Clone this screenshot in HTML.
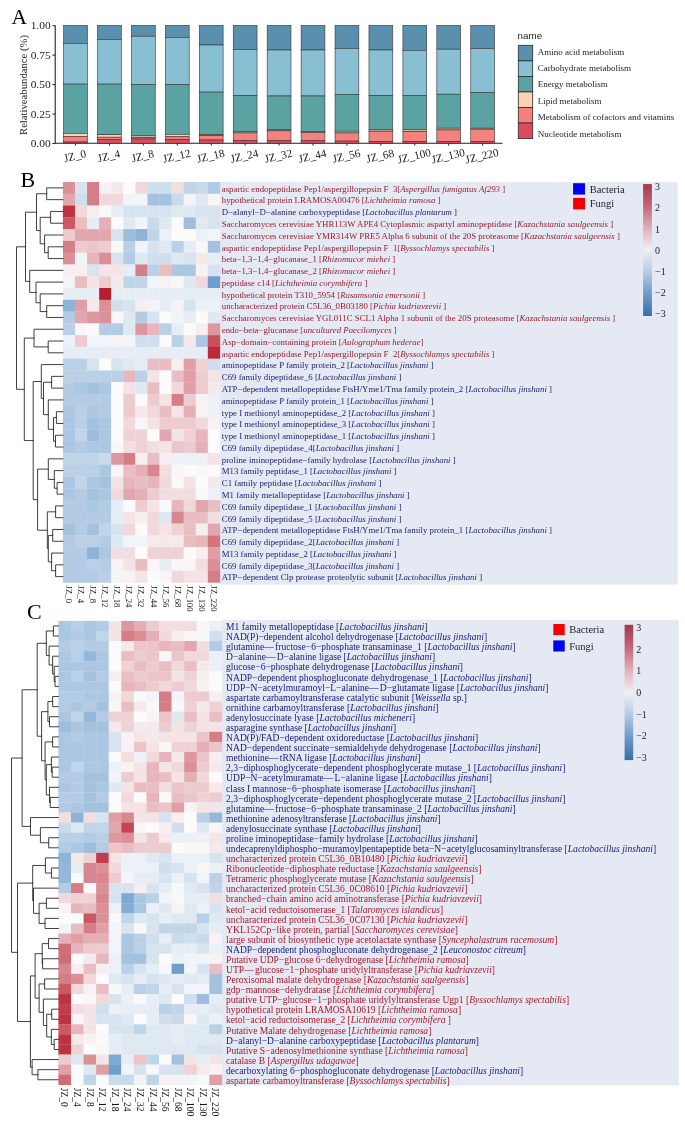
<!DOCTYPE html>
<html><head><meta charset="utf-8"><title>Figure</title>
<style>html,body{margin:0;padding:0;background:#fff;width:685px;height:1141px;overflow:hidden}svg{display:block;filter:blur(0.35px)}</style>
</head><body>
<svg width="685" height="1141" viewBox="0 0 685 1141">
<rect width="685" height="1141" fill="#fff"/>
<text x="11.5" y="23.6" font-family='"Liberation Serif", serif' font-size="21.5" fill="#000">A</text>
<text transform="translate(27.4,85) rotate(-90)" text-anchor="middle" font-family='"Liberation Serif", serif' font-size="10.7" fill="#222">Relativeabundance (%)</text>
<path d="M55.2,25.2 V143.2 H502.5" stroke="#222" stroke-width="1.1" fill="none"/>
<path d="M52.4,25.7 H55.2" stroke="#222" stroke-width="1"/>
<text x="50.6" y="29.2" text-anchor="end" font-family='"Liberation Serif", serif' font-size="11.4" fill="#222">1.00</text>
<path d="M52.4,55.15 H55.2" stroke="#222" stroke-width="1"/>
<text x="50.6" y="58.65" text-anchor="end" font-family='"Liberation Serif", serif' font-size="11.4" fill="#222">0.75</text>
<path d="M52.4,84.6 H55.2" stroke="#222" stroke-width="1"/>
<text x="50.6" y="88.1" text-anchor="end" font-family='"Liberation Serif", serif' font-size="11.4" fill="#222">0.50</text>
<path d="M52.4,114.05 H55.2" stroke="#222" stroke-width="1"/>
<text x="50.6" y="117.55" text-anchor="end" font-family='"Liberation Serif", serif' font-size="11.4" fill="#222">0.25</text>
<path d="M52.4,143.5 H55.2" stroke="#222" stroke-width="1"/>
<text x="50.6" y="147" text-anchor="end" font-family='"Liberation Serif", serif' font-size="11.4" fill="#222">0.00</text>
<rect x="63.6" y="25.4" width="23.8" height="17.9" fill="#5b8fae" stroke="#333" stroke-width="0.6"/>
<rect x="63.6" y="43.3" width="23.8" height="40.8" fill="#88bfd3" stroke="#333" stroke-width="0.6"/>
<rect x="63.6" y="84.1" width="23.8" height="49.2" fill="#5ba2a2" stroke="#333" stroke-width="0.6"/>
<rect x="63.6" y="133.3" width="23.8" height="3" fill="#fbd3b0" stroke="#333" stroke-width="0.6"/>
<rect x="63.6" y="136.3" width="23.8" height="5.7" fill="#f3827e" stroke="#333" stroke-width="0.6"/>
<rect x="63.6" y="142" width="23.8" height="1.2" fill="#dd4a5e" stroke="#333" stroke-width="0.6"/>
<path d="M75.5,143.2 V145.6" stroke="#222" stroke-width="1"/>
<text transform="translate(75.7,159.6) rotate(-13)" text-anchor="middle" font-family='"Liberation Serif", serif' font-size="11.3" fill="#222">JZ_0</text>
<rect x="97.53" y="25.4" width="23.8" height="14" fill="#5b8fae" stroke="#333" stroke-width="0.6"/>
<rect x="97.53" y="39.4" width="23.8" height="44.7" fill="#88bfd3" stroke="#333" stroke-width="0.6"/>
<rect x="97.53" y="84.1" width="23.8" height="50.6" fill="#5ba2a2" stroke="#333" stroke-width="0.6"/>
<rect x="97.53" y="134.7" width="23.8" height="2.5" fill="#fbd3b0" stroke="#333" stroke-width="0.6"/>
<rect x="97.53" y="137.2" width="23.8" height="2.2" fill="#f3827e" stroke="#333" stroke-width="0.6"/>
<rect x="97.53" y="139.4" width="23.8" height="3.8" fill="#dd4a5e" stroke="#333" stroke-width="0.6"/>
<path d="M109.43,143.2 V145.6" stroke="#222" stroke-width="1"/>
<text transform="translate(109.63,159.6) rotate(-13)" text-anchor="middle" font-family='"Liberation Serif", serif' font-size="11.3" fill="#222">JZ_4</text>
<rect x="131.46" y="25.4" width="23.8" height="10.8" fill="#5b8fae" stroke="#333" stroke-width="0.6"/>
<rect x="131.46" y="36.2" width="23.8" height="48.2" fill="#88bfd3" stroke="#333" stroke-width="0.6"/>
<rect x="131.46" y="84.4" width="23.8" height="51.5" fill="#5ba2a2" stroke="#333" stroke-width="0.6"/>
<rect x="131.46" y="135.9" width="23.8" height="1.5" fill="#fbd3b0" stroke="#333" stroke-width="0.6"/>
<rect x="131.46" y="137.4" width="23.8" height="1.6" fill="#f3827e" stroke="#333" stroke-width="0.6"/>
<rect x="131.46" y="139" width="23.8" height="4.2" fill="#dd4a5e" stroke="#333" stroke-width="0.6"/>
<path d="M143.36,143.2 V145.6" stroke="#222" stroke-width="1"/>
<text transform="translate(143.56,159.6) rotate(-13)" text-anchor="middle" font-family='"Liberation Serif", serif' font-size="11.3" fill="#222">JZ_8</text>
<rect x="165.39" y="25.4" width="23.8" height="11.9" fill="#5b8fae" stroke="#333" stroke-width="0.6"/>
<rect x="165.39" y="37.3" width="23.8" height="47.1" fill="#88bfd3" stroke="#333" stroke-width="0.6"/>
<rect x="165.39" y="84.4" width="23.8" height="49.9" fill="#5ba2a2" stroke="#333" stroke-width="0.6"/>
<rect x="165.39" y="134.3" width="23.8" height="2.5" fill="#fbd3b0" stroke="#333" stroke-width="0.6"/>
<rect x="165.39" y="136.8" width="23.8" height="2.6" fill="#f3827e" stroke="#333" stroke-width="0.6"/>
<rect x="165.39" y="139.4" width="23.8" height="3.8" fill="#dd4a5e" stroke="#333" stroke-width="0.6"/>
<path d="M177.29,143.2 V145.6" stroke="#222" stroke-width="1"/>
<text transform="translate(177.49,159.6) rotate(-13)" text-anchor="middle" font-family='"Liberation Serif", serif' font-size="11.3" fill="#222">JZ_12</text>
<rect x="199.32" y="25.4" width="23.8" height="19.6" fill="#5b8fae" stroke="#333" stroke-width="0.6"/>
<rect x="199.32" y="45" width="23.8" height="47.1" fill="#88bfd3" stroke="#333" stroke-width="0.6"/>
<rect x="199.32" y="92.1" width="23.8" height="42.6" fill="#5ba2a2" stroke="#333" stroke-width="0.6"/>
<rect x="199.32" y="134.7" width="23.8" height="0.8" fill="#fbd3b0" stroke="#333" stroke-width="0.6"/>
<rect x="199.32" y="135.5" width="23.8" height="4.5" fill="#f3827e" stroke="#333" stroke-width="0.6"/>
<rect x="199.32" y="140" width="23.8" height="3.2" fill="#dd4a5e" stroke="#333" stroke-width="0.6"/>
<path d="M211.22,143.2 V145.6" stroke="#222" stroke-width="1"/>
<text transform="translate(211.42,159.6) rotate(-13)" text-anchor="middle" font-family='"Liberation Serif", serif' font-size="11.3" fill="#222">JZ_18</text>
<rect x="233.25" y="25.4" width="23.8" height="24" fill="#5b8fae" stroke="#333" stroke-width="0.6"/>
<rect x="233.25" y="49.4" width="23.8" height="46" fill="#88bfd3" stroke="#333" stroke-width="0.6"/>
<rect x="233.25" y="95.4" width="23.8" height="36.2" fill="#5ba2a2" stroke="#333" stroke-width="0.6"/>
<rect x="233.25" y="131.6" width="23.8" height="1.3" fill="#fbd3b0" stroke="#333" stroke-width="0.6"/>
<rect x="233.25" y="132.9" width="23.8" height="7.5" fill="#f3827e" stroke="#333" stroke-width="0.6"/>
<rect x="233.25" y="140.4" width="23.8" height="2.8" fill="#dd4a5e" stroke="#333" stroke-width="0.6"/>
<path d="M245.15,143.2 V145.6" stroke="#222" stroke-width="1"/>
<text transform="translate(245.35,159.6) rotate(-13)" text-anchor="middle" font-family='"Liberation Serif", serif' font-size="11.3" fill="#222">JZ_24</text>
<rect x="267.18" y="25.4" width="23.8" height="24.6" fill="#5b8fae" stroke="#333" stroke-width="0.6"/>
<rect x="267.18" y="50" width="23.8" height="46" fill="#88bfd3" stroke="#333" stroke-width="0.6"/>
<rect x="267.18" y="96" width="23.8" height="33.8" fill="#5ba2a2" stroke="#333" stroke-width="0.6"/>
<rect x="267.18" y="129.8" width="23.8" height="1" fill="#fbd3b0" stroke="#333" stroke-width="0.6"/>
<rect x="267.18" y="130.8" width="23.8" height="10" fill="#f3827e" stroke="#333" stroke-width="0.6"/>
<rect x="267.18" y="140.8" width="23.8" height="2.4" fill="#dd4a5e" stroke="#333" stroke-width="0.6"/>
<path d="M279.08,143.2 V145.6" stroke="#222" stroke-width="1"/>
<text transform="translate(279.28,159.6) rotate(-13)" text-anchor="middle" font-family='"Liberation Serif", serif' font-size="11.3" fill="#222">JZ_32</text>
<rect x="301.11" y="25.4" width="23.8" height="24.6" fill="#5b8fae" stroke="#333" stroke-width="0.6"/>
<rect x="301.11" y="50" width="23.8" height="46" fill="#88bfd3" stroke="#333" stroke-width="0.6"/>
<rect x="301.11" y="96" width="23.8" height="35.6" fill="#5ba2a2" stroke="#333" stroke-width="0.6"/>
<rect x="301.11" y="131.6" width="23.8" height="0.7" fill="#fbd3b0" stroke="#333" stroke-width="0.6"/>
<rect x="301.11" y="132.3" width="23.8" height="8.5" fill="#f3827e" stroke="#333" stroke-width="0.6"/>
<rect x="301.11" y="140.8" width="23.8" height="2.4" fill="#dd4a5e" stroke="#333" stroke-width="0.6"/>
<path d="M313.01,143.2 V145.6" stroke="#222" stroke-width="1"/>
<text transform="translate(313.21,159.6) rotate(-13)" text-anchor="middle" font-family='"Liberation Serif", serif' font-size="11.3" fill="#222">JZ_44</text>
<rect x="335.04" y="25.4" width="23.8" height="22.9" fill="#5b8fae" stroke="#333" stroke-width="0.6"/>
<rect x="335.04" y="48.3" width="23.8" height="46" fill="#88bfd3" stroke="#333" stroke-width="0.6"/>
<rect x="335.04" y="94.3" width="23.8" height="36.9" fill="#5ba2a2" stroke="#333" stroke-width="0.6"/>
<rect x="335.04" y="131.2" width="23.8" height="1.7" fill="#fbd3b0" stroke="#333" stroke-width="0.6"/>
<rect x="335.04" y="132.9" width="23.8" height="8.2" fill="#f3827e" stroke="#333" stroke-width="0.6"/>
<rect x="335.04" y="141.1" width="23.8" height="2.1" fill="#dd4a5e" stroke="#333" stroke-width="0.6"/>
<path d="M346.94,143.2 V145.6" stroke="#222" stroke-width="1"/>
<text transform="translate(347.14,159.6) rotate(-13)" text-anchor="middle" font-family='"Liberation Serif", serif' font-size="11.3" fill="#222">JZ_56</text>
<rect x="368.97" y="25.4" width="23.8" height="24.6" fill="#5b8fae" stroke="#333" stroke-width="0.6"/>
<rect x="368.97" y="50" width="23.8" height="45.4" fill="#88bfd3" stroke="#333" stroke-width="0.6"/>
<rect x="368.97" y="95.4" width="23.8" height="34.5" fill="#5ba2a2" stroke="#333" stroke-width="0.6"/>
<rect x="368.97" y="129.9" width="23.8" height="1.3" fill="#fbd3b0" stroke="#333" stroke-width="0.6"/>
<rect x="368.97" y="131.2" width="23.8" height="10.4" fill="#f3827e" stroke="#333" stroke-width="0.6"/>
<rect x="368.97" y="141.6" width="23.8" height="1.6" fill="#dd4a5e" stroke="#333" stroke-width="0.6"/>
<path d="M380.87,143.2 V145.6" stroke="#222" stroke-width="1"/>
<text transform="translate(381.07,159.6) rotate(-13)" text-anchor="middle" font-family='"Liberation Serif", serif' font-size="11.3" fill="#222">JZ_68</text>
<rect x="402.9" y="25.4" width="23.8" height="24.9" fill="#5b8fae" stroke="#333" stroke-width="0.6"/>
<rect x="402.9" y="50.3" width="23.8" height="45" fill="#88bfd3" stroke="#333" stroke-width="0.6"/>
<rect x="402.9" y="95.3" width="23.8" height="34.6" fill="#5ba2a2" stroke="#333" stroke-width="0.6"/>
<rect x="402.9" y="129.9" width="23.8" height="1.5" fill="#fbd3b0" stroke="#333" stroke-width="0.6"/>
<rect x="402.9" y="131.4" width="23.8" height="10.2" fill="#f3827e" stroke="#333" stroke-width="0.6"/>
<rect x="402.9" y="141.6" width="23.8" height="1.6" fill="#dd4a5e" stroke="#333" stroke-width="0.6"/>
<path d="M414.8,143.2 V145.6" stroke="#222" stroke-width="1"/>
<text transform="translate(415,159.6) rotate(-13)" text-anchor="middle" font-family='"Liberation Serif", serif' font-size="11.3" fill="#222">JZ_100</text>
<rect x="436.83" y="25.4" width="23.8" height="23.8" fill="#5b8fae" stroke="#333" stroke-width="0.6"/>
<rect x="436.83" y="49.2" width="23.8" height="45" fill="#88bfd3" stroke="#333" stroke-width="0.6"/>
<rect x="436.83" y="94.2" width="23.8" height="34" fill="#5ba2a2" stroke="#333" stroke-width="0.6"/>
<rect x="436.83" y="128.2" width="23.8" height="1.7" fill="#fbd3b0" stroke="#333" stroke-width="0.6"/>
<rect x="436.83" y="129.9" width="23.8" height="11.7" fill="#f3827e" stroke="#333" stroke-width="0.6"/>
<rect x="436.83" y="141.6" width="23.8" height="1.6" fill="#dd4a5e" stroke="#333" stroke-width="0.6"/>
<path d="M448.73,143.2 V145.6" stroke="#222" stroke-width="1"/>
<text transform="translate(448.93,159.6) rotate(-13)" text-anchor="middle" font-family='"Liberation Serif", serif' font-size="11.3" fill="#222">JZ_130</text>
<rect x="470.76" y="25.4" width="23.8" height="23" fill="#5b8fae" stroke="#333" stroke-width="0.6"/>
<rect x="470.76" y="48.4" width="23.8" height="44" fill="#88bfd3" stroke="#333" stroke-width="0.6"/>
<rect x="470.76" y="92.4" width="23.8" height="35.8" fill="#5ba2a2" stroke="#333" stroke-width="0.6"/>
<rect x="470.76" y="128.2" width="23.8" height="1" fill="#fbd3b0" stroke="#333" stroke-width="0.6"/>
<rect x="470.76" y="129.2" width="23.8" height="12.4" fill="#f3827e" stroke="#333" stroke-width="0.6"/>
<rect x="470.76" y="141.6" width="23.8" height="1.6" fill="#dd4a5e" stroke="#333" stroke-width="0.6"/>
<path d="M482.66,143.2 V145.6" stroke="#222" stroke-width="1"/>
<text transform="translate(482.86,159.6) rotate(-13)" text-anchor="middle" font-family='"Liberation Serif", serif' font-size="11.3" fill="#222">JZ_220</text>
<text x="517.6" y="38.8" font-family='"Liberation Sans", sans-serif' font-size="9.8" fill="#222">name</text>
<rect x="518.3" y="45.3" width="14.4" height="15.55" fill="#5b8fae" stroke="#2a2a2a" stroke-width="0.8"/>
<text x="537.8" y="54.6" font-family='"Liberation Serif", serif' font-size="9.0" fill="#222">Amino acid metabolism</text>
<rect x="518.3" y="60.85" width="14.4" height="15.55" fill="#88bfd3" stroke="#2a2a2a" stroke-width="0.8"/>
<text x="537.8" y="71.04" font-family='"Liberation Serif", serif' font-size="9.0" fill="#222">Carbohydrate metabolism</text>
<rect x="518.3" y="76.4" width="14.4" height="15.55" fill="#5ba2a2" stroke="#2a2a2a" stroke-width="0.8"/>
<text x="537.8" y="87.48" font-family='"Liberation Serif", serif' font-size="9.0" fill="#222">Energy metabolism</text>
<rect x="518.3" y="91.95" width="14.4" height="15.55" fill="#fbd3b0" stroke="#2a2a2a" stroke-width="0.8"/>
<text x="537.8" y="103.92" font-family='"Liberation Serif", serif' font-size="9.0" fill="#222">Lipid metabolism</text>
<rect x="518.3" y="107.5" width="14.4" height="15.55" fill="#f3827e" stroke="#2a2a2a" stroke-width="0.8"/>
<text x="537.8" y="120.36" font-family='"Liberation Serif", serif' font-size="9.0" fill="#222">Metabolism of cofactors and vitamins</text>
<rect x="518.3" y="123.05" width="14.4" height="15.55" fill="#dd4a5e" stroke="#2a2a2a" stroke-width="0.8"/>
<text x="537.8" y="136.8" font-family='"Liberation Serif", serif' font-size="9.0" fill="#222">Nucleotide metabolism</text>
<text x="20.6" y="186.6" font-family='"Liberation Serif", serif' font-size="22" fill="#000">B</text>
<rect x="219.9" y="181.9" width="457.6" height="402.7" fill="#e4e9f3"/>
<rect x="62.9" y="182" width="12.33" height="12.03" fill="#db8f97"/>
<rect x="74.98" y="182" width="12.33" height="12.03" fill="#d7e4f0"/>
<rect x="87.05" y="182" width="12.33" height="12.03" fill="#d67e87"/>
<rect x="99.13" y="182" width="12.33" height="12.03" fill="#f8f2f4"/>
<rect x="111.21" y="182" width="12.33" height="12.03" fill="#f6e9eb"/>
<rect x="123.28" y="182" width="12.33" height="12.03" fill="#fbfbfc"/>
<rect x="135.36" y="182" width="12.33" height="12.03" fill="#f1d8db"/>
<rect x="147.44" y="182" width="12.33" height="12.03" fill="#d0dfee"/>
<rect x="159.52" y="182" width="12.33" height="12.03" fill="#d0dfee"/>
<rect x="171.59" y="182" width="12.33" height="12.03" fill="#f2dee1"/>
<rect x="183.67" y="182" width="12.33" height="12.03" fill="#c1d5e9"/>
<rect x="195.75" y="182" width="12.33" height="12.03" fill="#c9daeb"/>
<rect x="207.82" y="182" width="12.33" height="12.03" fill="#b3cbe4"/>
<rect x="62.9" y="193.78" width="12.33" height="12.03" fill="#e2a7ae"/>
<rect x="74.98" y="193.78" width="12.33" height="12.03" fill="#d0dfee"/>
<rect x="87.05" y="193.78" width="12.33" height="12.03" fill="#d67e87"/>
<rect x="99.13" y="193.78" width="12.33" height="12.03" fill="#f1d8db"/>
<rect x="111.21" y="193.78" width="12.33" height="12.03" fill="#f1d8db"/>
<rect x="123.28" y="193.78" width="12.33" height="12.03" fill="#f1f4f8"/>
<rect x="135.36" y="193.78" width="12.33" height="12.03" fill="#f1f4f8"/>
<rect x="147.44" y="193.78" width="12.33" height="12.03" fill="#a4c2de"/>
<rect x="159.52" y="193.78" width="12.33" height="12.03" fill="#a4c2de"/>
<rect x="171.59" y="193.78" width="12.33" height="12.03" fill="#c9daeb"/>
<rect x="183.67" y="193.78" width="12.33" height="12.03" fill="#f1f4f8"/>
<rect x="195.75" y="193.78" width="12.33" height="12.03" fill="#dfe9f2"/>
<rect x="207.82" y="193.78" width="12.33" height="12.03" fill="#faf6f7"/>
<rect x="62.9" y="205.56" width="12.33" height="12.03" fill="#bf3240"/>
<rect x="74.98" y="205.56" width="12.33" height="12.03" fill="#f1d8db"/>
<rect x="87.05" y="205.56" width="12.33" height="12.03" fill="#f7eef0"/>
<rect x="99.13" y="205.56" width="12.33" height="12.03" fill="#faf9fa"/>
<rect x="111.21" y="205.56" width="12.33" height="12.03" fill="#e6edf5"/>
<rect x="123.28" y="205.56" width="12.33" height="12.03" fill="#d7e4f0"/>
<rect x="135.36" y="205.56" width="12.33" height="12.03" fill="#d7e4f0"/>
<rect x="147.44" y="205.56" width="12.33" height="12.03" fill="#d7e4f0"/>
<rect x="159.52" y="205.56" width="12.33" height="12.03" fill="#d7e4f0"/>
<rect x="171.59" y="205.56" width="12.33" height="12.03" fill="#dfe9f2"/>
<rect x="183.67" y="205.56" width="12.33" height="12.03" fill="#dfe9f2"/>
<rect x="195.75" y="205.56" width="12.33" height="12.03" fill="#d7e4f0"/>
<rect x="207.82" y="205.56" width="12.33" height="12.03" fill="#d7e4f0"/>
<rect x="62.9" y="217.34" width="12.33" height="12.03" fill="#cb5965"/>
<rect x="74.98" y="217.34" width="12.33" height="12.03" fill="#e9bec3"/>
<rect x="87.05" y="217.34" width="12.33" height="12.03" fill="#e6edf5"/>
<rect x="99.13" y="217.34" width="12.33" height="12.03" fill="#e4afb5"/>
<rect x="111.21" y="217.34" width="12.33" height="12.03" fill="#fbfbfc"/>
<rect x="123.28" y="217.34" width="12.33" height="12.03" fill="#dfe9f2"/>
<rect x="135.36" y="217.34" width="12.33" height="12.03" fill="#f1f4f8"/>
<rect x="147.44" y="217.34" width="12.33" height="12.03" fill="#c9daeb"/>
<rect x="159.52" y="217.34" width="12.33" height="12.03" fill="#dfe9f2"/>
<rect x="171.59" y="217.34" width="12.33" height="12.03" fill="#fbfbfc"/>
<rect x="183.67" y="217.34" width="12.33" height="12.03" fill="#9cbddc"/>
<rect x="195.75" y="217.34" width="12.33" height="12.03" fill="#dfe9f2"/>
<rect x="207.82" y="217.34" width="12.33" height="12.03" fill="#d7e4f0"/>
<rect x="62.9" y="229.12" width="12.33" height="12.03" fill="#edccd0"/>
<rect x="74.98" y="229.12" width="12.33" height="12.03" fill="#e2a7ae"/>
<rect x="87.05" y="229.12" width="12.33" height="12.03" fill="#e2a7ae"/>
<rect x="99.13" y="229.12" width="12.33" height="12.03" fill="#e2a7ae"/>
<rect x="111.21" y="229.12" width="12.33" height="12.03" fill="#d7e4f0"/>
<rect x="123.28" y="229.12" width="12.33" height="12.03" fill="#9cbddc"/>
<rect x="135.36" y="229.12" width="12.33" height="12.03" fill="#8db3d7"/>
<rect x="147.44" y="229.12" width="12.33" height="12.03" fill="#c1d5e9"/>
<rect x="159.52" y="229.12" width="12.33" height="12.03" fill="#ebf1f7"/>
<rect x="171.59" y="229.12" width="12.33" height="12.03" fill="#fbfbfc"/>
<rect x="183.67" y="229.12" width="12.33" height="12.03" fill="#fbfbfc"/>
<rect x="195.75" y="229.12" width="12.33" height="12.03" fill="#ebf1f7"/>
<rect x="207.82" y="229.12" width="12.33" height="12.03" fill="#f1f4f8"/>
<rect x="62.9" y="240.9" width="12.33" height="12.03" fill="#d67e87"/>
<rect x="74.98" y="240.9" width="12.33" height="12.03" fill="#edccd0"/>
<rect x="87.05" y="240.9" width="12.33" height="12.03" fill="#ebc5c9"/>
<rect x="99.13" y="240.9" width="12.33" height="12.03" fill="#edccd0"/>
<rect x="111.21" y="240.9" width="12.33" height="12.03" fill="#f6f8fa"/>
<rect x="123.28" y="240.9" width="12.33" height="12.03" fill="#bad0e6"/>
<rect x="135.36" y="240.9" width="12.33" height="12.03" fill="#f1f4f8"/>
<rect x="147.44" y="240.9" width="12.33" height="12.03" fill="#d7e4f0"/>
<rect x="159.52" y="240.9" width="12.33" height="12.03" fill="#dfe9f2"/>
<rect x="171.59" y="240.9" width="12.33" height="12.03" fill="#bad0e6"/>
<rect x="183.67" y="240.9" width="12.33" height="12.03" fill="#e6edf5"/>
<rect x="195.75" y="240.9" width="12.33" height="12.03" fill="#f6f8fa"/>
<rect x="207.82" y="240.9" width="12.33" height="12.03" fill="#a4c2de"/>
<rect x="62.9" y="252.68" width="12.33" height="12.03" fill="#db8f97"/>
<rect x="74.98" y="252.68" width="12.33" height="12.03" fill="#f1f4f8"/>
<rect x="87.05" y="252.68" width="12.33" height="12.03" fill="#e7b6bc"/>
<rect x="99.13" y="252.68" width="12.33" height="12.03" fill="#db8f97"/>
<rect x="111.21" y="252.68" width="12.33" height="12.03" fill="#d7e4f0"/>
<rect x="123.28" y="252.68" width="12.33" height="12.03" fill="#b3cbe4"/>
<rect x="135.36" y="252.68" width="12.33" height="12.03" fill="#dfe9f2"/>
<rect x="147.44" y="252.68" width="12.33" height="12.03" fill="#d0dfee"/>
<rect x="159.52" y="252.68" width="12.33" height="12.03" fill="#d0dfee"/>
<rect x="171.59" y="252.68" width="12.33" height="12.03" fill="#dfe9f2"/>
<rect x="183.67" y="252.68" width="12.33" height="12.03" fill="#d7e4f0"/>
<rect x="195.75" y="252.68" width="12.33" height="12.03" fill="#f6e9eb"/>
<rect x="207.82" y="252.68" width="12.33" height="12.03" fill="#e6edf5"/>
<rect x="62.9" y="264.46" width="12.33" height="12.03" fill="#f7eef0"/>
<rect x="74.98" y="264.46" width="12.33" height="12.03" fill="#f7eef0"/>
<rect x="87.05" y="264.46" width="12.33" height="12.03" fill="#d7e4f0"/>
<rect x="99.13" y="264.46" width="12.33" height="12.03" fill="#f4e4e6"/>
<rect x="111.21" y="264.46" width="12.33" height="12.03" fill="#f4e4e6"/>
<rect x="123.28" y="264.46" width="12.33" height="12.03" fill="#e6edf5"/>
<rect x="135.36" y="264.46" width="12.33" height="12.03" fill="#d67e87"/>
<rect x="147.44" y="264.46" width="12.33" height="12.03" fill="#bad0e6"/>
<rect x="159.52" y="264.46" width="12.33" height="12.03" fill="#e9bec3"/>
<rect x="171.59" y="264.46" width="12.33" height="12.03" fill="#abc7e1"/>
<rect x="183.67" y="264.46" width="12.33" height="12.03" fill="#abc7e1"/>
<rect x="195.75" y="264.46" width="12.33" height="12.03" fill="#f8f2f4"/>
<rect x="207.82" y="264.46" width="12.33" height="12.03" fill="#d7e4f0"/>
<rect x="62.9" y="276.24" width="12.33" height="12.03" fill="#f1f4f8"/>
<rect x="74.98" y="276.24" width="12.33" height="12.03" fill="#e9bec3"/>
<rect x="87.05" y="276.24" width="12.33" height="12.03" fill="#f4e4e6"/>
<rect x="99.13" y="276.24" width="12.33" height="12.03" fill="#edccd0"/>
<rect x="111.21" y="276.24" width="12.33" height="12.03" fill="#f6e9eb"/>
<rect x="123.28" y="276.24" width="12.33" height="12.03" fill="#c1d5e9"/>
<rect x="135.36" y="276.24" width="12.33" height="12.03" fill="#c1d5e9"/>
<rect x="147.44" y="276.24" width="12.33" height="12.03" fill="#f1f4f8"/>
<rect x="159.52" y="276.24" width="12.33" height="12.03" fill="#f8f2f4"/>
<rect x="171.59" y="276.24" width="12.33" height="12.03" fill="#faf6f7"/>
<rect x="183.67" y="276.24" width="12.33" height="12.03" fill="#dfe9f2"/>
<rect x="195.75" y="276.24" width="12.33" height="12.03" fill="#f1d8db"/>
<rect x="207.82" y="276.24" width="12.33" height="12.03" fill="#6e9fcc"/>
<rect x="62.9" y="288.01" width="12.33" height="12.03" fill="#e6edf5"/>
<rect x="74.98" y="288.01" width="12.33" height="12.03" fill="#e6edf5"/>
<rect x="87.05" y="288.01" width="12.33" height="12.03" fill="#e6edf5"/>
<rect x="99.13" y="288.01" width="12.33" height="12.03" fill="#b91e2d"/>
<rect x="111.21" y="288.01" width="12.33" height="12.03" fill="#e6edf5"/>
<rect x="123.28" y="288.01" width="12.33" height="12.03" fill="#e6edf5"/>
<rect x="135.36" y="288.01" width="12.33" height="12.03" fill="#e6edf5"/>
<rect x="147.44" y="288.01" width="12.33" height="12.03" fill="#e6edf5"/>
<rect x="159.52" y="288.01" width="12.33" height="12.03" fill="#e6edf5"/>
<rect x="171.59" y="288.01" width="12.33" height="12.03" fill="#e6edf5"/>
<rect x="183.67" y="288.01" width="12.33" height="12.03" fill="#e6edf5"/>
<rect x="195.75" y="288.01" width="12.33" height="12.03" fill="#e6edf5"/>
<rect x="207.82" y="288.01" width="12.33" height="12.03" fill="#e6edf5"/>
<rect x="62.9" y="299.79" width="12.33" height="12.03" fill="#8db3d7"/>
<rect x="74.98" y="299.79" width="12.33" height="12.03" fill="#e09fa6"/>
<rect x="87.05" y="299.79" width="12.33" height="12.03" fill="#f6e9eb"/>
<rect x="99.13" y="299.79" width="12.33" height="12.03" fill="#db8f97"/>
<rect x="111.21" y="299.79" width="12.33" height="12.03" fill="#d0dfee"/>
<rect x="123.28" y="299.79" width="12.33" height="12.03" fill="#d7e4f0"/>
<rect x="135.36" y="299.79" width="12.33" height="12.03" fill="#f7eef0"/>
<rect x="147.44" y="299.79" width="12.33" height="12.03" fill="#f1f4f8"/>
<rect x="159.52" y="299.79" width="12.33" height="12.03" fill="#e6edf5"/>
<rect x="171.59" y="299.79" width="12.33" height="12.03" fill="#f8f2f4"/>
<rect x="183.67" y="299.79" width="12.33" height="12.03" fill="#d7e4f0"/>
<rect x="195.75" y="299.79" width="12.33" height="12.03" fill="#ebf1f7"/>
<rect x="207.82" y="299.79" width="12.33" height="12.03" fill="#ebf1f7"/>
<rect x="62.9" y="311.57" width="12.33" height="12.03" fill="#b3cbe4"/>
<rect x="74.98" y="311.57" width="12.33" height="12.03" fill="#e2a7ae"/>
<rect x="87.05" y="311.57" width="12.33" height="12.03" fill="#dd979f"/>
<rect x="99.13" y="311.57" width="12.33" height="12.03" fill="#db8f97"/>
<rect x="111.21" y="311.57" width="12.33" height="12.03" fill="#faf6f7"/>
<rect x="123.28" y="311.57" width="12.33" height="12.03" fill="#dfe9f2"/>
<rect x="135.36" y="311.57" width="12.33" height="12.03" fill="#b3cbe4"/>
<rect x="147.44" y="311.57" width="12.33" height="12.03" fill="#d7e4f0"/>
<rect x="159.52" y="311.57" width="12.33" height="12.03" fill="#fbfbfc"/>
<rect x="171.59" y="311.57" width="12.33" height="12.03" fill="#f1f4f8"/>
<rect x="183.67" y="311.57" width="12.33" height="12.03" fill="#e6edf5"/>
<rect x="195.75" y="311.57" width="12.33" height="12.03" fill="#fbfbfc"/>
<rect x="207.82" y="311.57" width="12.33" height="12.03" fill="#dfe9f2"/>
<rect x="62.9" y="323.35" width="12.33" height="12.03" fill="#bad0e6"/>
<rect x="74.98" y="323.35" width="12.33" height="12.03" fill="#faf6f7"/>
<rect x="87.05" y="323.35" width="12.33" height="12.03" fill="#faf9fa"/>
<rect x="99.13" y="323.35" width="12.33" height="12.03" fill="#b3cbe4"/>
<rect x="111.21" y="323.35" width="12.33" height="12.03" fill="#b3cbe4"/>
<rect x="123.28" y="323.35" width="12.33" height="12.03" fill="#dfe9f2"/>
<rect x="135.36" y="323.35" width="12.33" height="12.03" fill="#dd979f"/>
<rect x="147.44" y="323.35" width="12.33" height="12.03" fill="#e7b6bc"/>
<rect x="159.52" y="323.35" width="12.33" height="12.03" fill="#bad0e6"/>
<rect x="171.59" y="323.35" width="12.33" height="12.03" fill="#e6edf5"/>
<rect x="183.67" y="323.35" width="12.33" height="12.03" fill="#faf9fa"/>
<rect x="195.75" y="323.35" width="12.33" height="12.03" fill="#f7eef0"/>
<rect x="207.82" y="323.35" width="12.33" height="12.03" fill="#dd979f"/>
<rect x="62.9" y="335.13" width="12.33" height="12.03" fill="#ebf1f7"/>
<rect x="74.98" y="335.13" width="12.33" height="12.03" fill="#edccd0"/>
<rect x="87.05" y="335.13" width="12.33" height="12.03" fill="#f1f4f8"/>
<rect x="99.13" y="335.13" width="12.33" height="12.03" fill="#f1f4f8"/>
<rect x="111.21" y="335.13" width="12.33" height="12.03" fill="#f8f2f4"/>
<rect x="123.28" y="335.13" width="12.33" height="12.03" fill="#f1f4f8"/>
<rect x="135.36" y="335.13" width="12.33" height="12.03" fill="#d0dfee"/>
<rect x="147.44" y="335.13" width="12.33" height="12.03" fill="#d0dfee"/>
<rect x="159.52" y="335.13" width="12.33" height="12.03" fill="#fbfbfc"/>
<rect x="171.59" y="335.13" width="12.33" height="12.03" fill="#bad0e6"/>
<rect x="183.67" y="335.13" width="12.33" height="12.03" fill="#f6e9eb"/>
<rect x="195.75" y="335.13" width="12.33" height="12.03" fill="#abc7e1"/>
<rect x="207.82" y="335.13" width="12.33" height="12.03" fill="#c8505c"/>
<rect x="62.9" y="346.91" width="12.33" height="12.03" fill="#e6edf5"/>
<rect x="74.98" y="346.91" width="12.33" height="12.03" fill="#e6edf5"/>
<rect x="87.05" y="346.91" width="12.33" height="12.03" fill="#e6edf5"/>
<rect x="99.13" y="346.91" width="12.33" height="12.03" fill="#e6edf5"/>
<rect x="111.21" y="346.91" width="12.33" height="12.03" fill="#e6edf5"/>
<rect x="123.28" y="346.91" width="12.33" height="12.03" fill="#e6edf5"/>
<rect x="135.36" y="346.91" width="12.33" height="12.03" fill="#e6edf5"/>
<rect x="147.44" y="346.91" width="12.33" height="12.03" fill="#e6edf5"/>
<rect x="159.52" y="346.91" width="12.33" height="12.03" fill="#e6edf5"/>
<rect x="171.59" y="346.91" width="12.33" height="12.03" fill="#e6edf5"/>
<rect x="183.67" y="346.91" width="12.33" height="12.03" fill="#e6edf5"/>
<rect x="195.75" y="346.91" width="12.33" height="12.03" fill="#e6edf5"/>
<rect x="207.82" y="346.91" width="12.33" height="12.03" fill="#bc2837"/>
<rect x="62.9" y="358.69" width="12.33" height="12.03" fill="#bad0e6"/>
<rect x="74.98" y="358.69" width="12.33" height="12.03" fill="#bad0e6"/>
<rect x="87.05" y="358.69" width="12.33" height="12.03" fill="#d7e4f0"/>
<rect x="99.13" y="358.69" width="12.33" height="12.03" fill="#fbfbfc"/>
<rect x="111.21" y="358.69" width="12.33" height="12.03" fill="#d7e4f0"/>
<rect x="123.28" y="358.69" width="12.33" height="12.03" fill="#dfe9f2"/>
<rect x="135.36" y="358.69" width="12.33" height="12.03" fill="#e6edf5"/>
<rect x="147.44" y="358.69" width="12.33" height="12.03" fill="#e9bec3"/>
<rect x="159.52" y="358.69" width="12.33" height="12.03" fill="#e9bec3"/>
<rect x="171.59" y="358.69" width="12.33" height="12.03" fill="#f7eef0"/>
<rect x="183.67" y="358.69" width="12.33" height="12.03" fill="#e09fa6"/>
<rect x="195.75" y="358.69" width="12.33" height="12.03" fill="#efd2d6"/>
<rect x="207.82" y="358.69" width="12.33" height="12.03" fill="#d0dfee"/>
<rect x="62.9" y="370.47" width="12.33" height="12.03" fill="#bad0e6"/>
<rect x="74.98" y="370.47" width="12.33" height="12.03" fill="#bad0e6"/>
<rect x="87.05" y="370.47" width="12.33" height="12.03" fill="#bad0e6"/>
<rect x="99.13" y="370.47" width="12.33" height="12.03" fill="#bad0e6"/>
<rect x="111.21" y="370.47" width="12.33" height="12.03" fill="#bad0e6"/>
<rect x="123.28" y="370.47" width="12.33" height="12.03" fill="#e7b6bc"/>
<rect x="135.36" y="370.47" width="12.33" height="12.03" fill="#bad0e6"/>
<rect x="147.44" y="370.47" width="12.33" height="12.03" fill="#f4e4e6"/>
<rect x="159.52" y="370.47" width="12.33" height="12.03" fill="#fbfbfc"/>
<rect x="171.59" y="370.47" width="12.33" height="12.03" fill="#e9bec3"/>
<rect x="183.67" y="370.47" width="12.33" height="12.03" fill="#e09fa6"/>
<rect x="195.75" y="370.47" width="12.33" height="12.03" fill="#edccd0"/>
<rect x="207.82" y="370.47" width="12.33" height="12.03" fill="#f4e4e6"/>
<rect x="62.9" y="382.25" width="12.33" height="12.03" fill="#b3cbe4"/>
<rect x="74.98" y="382.25" width="12.33" height="12.03" fill="#abc7e1"/>
<rect x="87.05" y="382.25" width="12.33" height="12.03" fill="#a4c2de"/>
<rect x="99.13" y="382.25" width="12.33" height="12.03" fill="#abc7e1"/>
<rect x="111.21" y="382.25" width="12.33" height="12.03" fill="#fbfbfc"/>
<rect x="123.28" y="382.25" width="12.33" height="12.03" fill="#f4e4e6"/>
<rect x="135.36" y="382.25" width="12.33" height="12.03" fill="#dfe9f2"/>
<rect x="147.44" y="382.25" width="12.33" height="12.03" fill="#e9bec3"/>
<rect x="159.52" y="382.25" width="12.33" height="12.03" fill="#fbfbfc"/>
<rect x="171.59" y="382.25" width="12.33" height="12.03" fill="#f1d8db"/>
<rect x="183.67" y="382.25" width="12.33" height="12.03" fill="#e09fa6"/>
<rect x="195.75" y="382.25" width="12.33" height="12.03" fill="#edccd0"/>
<rect x="207.82" y="382.25" width="12.33" height="12.03" fill="#f6e9eb"/>
<rect x="62.9" y="394.03" width="12.33" height="12.03" fill="#b3cbe4"/>
<rect x="74.98" y="394.03" width="12.33" height="12.03" fill="#b3cbe4"/>
<rect x="87.05" y="394.03" width="12.33" height="12.03" fill="#b3cbe4"/>
<rect x="99.13" y="394.03" width="12.33" height="12.03" fill="#b3cbe4"/>
<rect x="111.21" y="394.03" width="12.33" height="12.03" fill="#fbfbfc"/>
<rect x="123.28" y="394.03" width="12.33" height="12.03" fill="#edccd0"/>
<rect x="135.36" y="394.03" width="12.33" height="12.03" fill="#fbfbfc"/>
<rect x="147.44" y="394.03" width="12.33" height="12.03" fill="#edccd0"/>
<rect x="159.52" y="394.03" width="12.33" height="12.03" fill="#f4e4e6"/>
<rect x="171.59" y="394.03" width="12.33" height="12.03" fill="#d67e87"/>
<rect x="183.67" y="394.03" width="12.33" height="12.03" fill="#edccd0"/>
<rect x="195.75" y="394.03" width="12.33" height="12.03" fill="#f8f2f4"/>
<rect x="207.82" y="394.03" width="12.33" height="12.03" fill="#ebf1f7"/>
<rect x="62.9" y="405.81" width="12.33" height="12.03" fill="#abc7e1"/>
<rect x="74.98" y="405.81" width="12.33" height="12.03" fill="#bad0e6"/>
<rect x="87.05" y="405.81" width="12.33" height="12.03" fill="#abc7e1"/>
<rect x="99.13" y="405.81" width="12.33" height="12.03" fill="#b3cbe4"/>
<rect x="111.21" y="405.81" width="12.33" height="12.03" fill="#fbfbfc"/>
<rect x="123.28" y="405.81" width="12.33" height="12.03" fill="#edccd0"/>
<rect x="135.36" y="405.81" width="12.33" height="12.03" fill="#f6e9eb"/>
<rect x="147.44" y="405.81" width="12.33" height="12.03" fill="#f1d8db"/>
<rect x="159.52" y="405.81" width="12.33" height="12.03" fill="#e9bec3"/>
<rect x="171.59" y="405.81" width="12.33" height="12.03" fill="#f4e4e6"/>
<rect x="183.67" y="405.81" width="12.33" height="12.03" fill="#e4afb5"/>
<rect x="195.75" y="405.81" width="12.33" height="12.03" fill="#f8f2f4"/>
<rect x="207.82" y="405.81" width="12.33" height="12.03" fill="#ebf1f7"/>
<rect x="62.9" y="417.59" width="12.33" height="12.03" fill="#abc7e1"/>
<rect x="74.98" y="417.59" width="12.33" height="12.03" fill="#bad0e6"/>
<rect x="87.05" y="417.59" width="12.33" height="12.03" fill="#a4c2de"/>
<rect x="99.13" y="417.59" width="12.33" height="12.03" fill="#abc7e1"/>
<rect x="111.21" y="417.59" width="12.33" height="12.03" fill="#fbfbfc"/>
<rect x="123.28" y="417.59" width="12.33" height="12.03" fill="#f1d8db"/>
<rect x="135.36" y="417.59" width="12.33" height="12.03" fill="#faf6f7"/>
<rect x="147.44" y="417.59" width="12.33" height="12.03" fill="#f4e4e6"/>
<rect x="159.52" y="417.59" width="12.33" height="12.03" fill="#edccd0"/>
<rect x="171.59" y="417.59" width="12.33" height="12.03" fill="#edccd0"/>
<rect x="183.67" y="417.59" width="12.33" height="12.03" fill="#edccd0"/>
<rect x="195.75" y="417.59" width="12.33" height="12.03" fill="#f1d8db"/>
<rect x="207.82" y="417.59" width="12.33" height="12.03" fill="#f8f2f4"/>
<rect x="62.9" y="429.37" width="12.33" height="12.03" fill="#abc7e1"/>
<rect x="74.98" y="429.37" width="12.33" height="12.03" fill="#c1d5e9"/>
<rect x="87.05" y="429.37" width="12.33" height="12.03" fill="#9cbddc"/>
<rect x="99.13" y="429.37" width="12.33" height="12.03" fill="#abc7e1"/>
<rect x="111.21" y="429.37" width="12.33" height="12.03" fill="#fbfbfc"/>
<rect x="123.28" y="429.37" width="12.33" height="12.03" fill="#efd2d6"/>
<rect x="135.36" y="429.37" width="12.33" height="12.03" fill="#efd2d6"/>
<rect x="147.44" y="429.37" width="12.33" height="12.03" fill="#fbfbfc"/>
<rect x="159.52" y="429.37" width="12.33" height="12.03" fill="#e2a7ae"/>
<rect x="171.59" y="429.37" width="12.33" height="12.03" fill="#f4e4e6"/>
<rect x="183.67" y="429.37" width="12.33" height="12.03" fill="#efd2d6"/>
<rect x="195.75" y="429.37" width="12.33" height="12.03" fill="#e7b6bc"/>
<rect x="207.82" y="429.37" width="12.33" height="12.03" fill="#fbfbfc"/>
<rect x="62.9" y="441.15" width="12.33" height="12.03" fill="#abc7e1"/>
<rect x="74.98" y="441.15" width="12.33" height="12.03" fill="#b3cbe4"/>
<rect x="87.05" y="441.15" width="12.33" height="12.03" fill="#abc7e1"/>
<rect x="99.13" y="441.15" width="12.33" height="12.03" fill="#abc7e1"/>
<rect x="111.21" y="441.15" width="12.33" height="12.03" fill="#faf6f7"/>
<rect x="123.28" y="441.15" width="12.33" height="12.03" fill="#f2dee1"/>
<rect x="135.36" y="441.15" width="12.33" height="12.03" fill="#efd2d6"/>
<rect x="147.44" y="441.15" width="12.33" height="12.03" fill="#f2dee1"/>
<rect x="159.52" y="441.15" width="12.33" height="12.03" fill="#f4e4e6"/>
<rect x="171.59" y="441.15" width="12.33" height="12.03" fill="#ebc5c9"/>
<rect x="183.67" y="441.15" width="12.33" height="12.03" fill="#edccd0"/>
<rect x="195.75" y="441.15" width="12.33" height="12.03" fill="#e4afb5"/>
<rect x="207.82" y="441.15" width="12.33" height="12.03" fill="#fbfbfc"/>
<rect x="62.9" y="452.93" width="12.33" height="12.03" fill="#c1d5e9"/>
<rect x="74.98" y="452.93" width="12.33" height="12.03" fill="#c1d5e9"/>
<rect x="87.05" y="452.93" width="12.33" height="12.03" fill="#c1d5e9"/>
<rect x="99.13" y="452.93" width="12.33" height="12.03" fill="#c9daeb"/>
<rect x="111.21" y="452.93" width="12.33" height="12.03" fill="#dd979f"/>
<rect x="123.28" y="452.93" width="12.33" height="12.03" fill="#d67e87"/>
<rect x="135.36" y="452.93" width="12.33" height="12.03" fill="#f7eef0"/>
<rect x="147.44" y="452.93" width="12.33" height="12.03" fill="#e9bec3"/>
<rect x="159.52" y="452.93" width="12.33" height="12.03" fill="#f7eef0"/>
<rect x="171.59" y="452.93" width="12.33" height="12.03" fill="#ebf1f7"/>
<rect x="183.67" y="452.93" width="12.33" height="12.03" fill="#ebf1f7"/>
<rect x="195.75" y="452.93" width="12.33" height="12.03" fill="#ebf1f7"/>
<rect x="207.82" y="452.93" width="12.33" height="12.03" fill="#f4e4e6"/>
<rect x="62.9" y="464.71" width="12.33" height="12.03" fill="#bad0e6"/>
<rect x="74.98" y="464.71" width="12.33" height="12.03" fill="#bad0e6"/>
<rect x="87.05" y="464.71" width="12.33" height="12.03" fill="#bad0e6"/>
<rect x="99.13" y="464.71" width="12.33" height="12.03" fill="#abc7e1"/>
<rect x="111.21" y="464.71" width="12.33" height="12.03" fill="#faf6f7"/>
<rect x="123.28" y="464.71" width="12.33" height="12.03" fill="#e9bec3"/>
<rect x="135.36" y="464.71" width="12.33" height="12.03" fill="#e4afb5"/>
<rect x="147.44" y="464.71" width="12.33" height="12.03" fill="#d8868f"/>
<rect x="159.52" y="464.71" width="12.33" height="12.03" fill="#f2dee1"/>
<rect x="171.59" y="464.71" width="12.33" height="12.03" fill="#faf6f7"/>
<rect x="183.67" y="464.71" width="12.33" height="12.03" fill="#fbfbfc"/>
<rect x="195.75" y="464.71" width="12.33" height="12.03" fill="#f6f8fa"/>
<rect x="207.82" y="464.71" width="12.33" height="12.03" fill="#fbfbfc"/>
<rect x="62.9" y="476.49" width="12.33" height="12.03" fill="#abc7e1"/>
<rect x="74.98" y="476.49" width="12.33" height="12.03" fill="#c1d5e9"/>
<rect x="87.05" y="476.49" width="12.33" height="12.03" fill="#abc7e1"/>
<rect x="99.13" y="476.49" width="12.33" height="12.03" fill="#a4c2de"/>
<rect x="111.21" y="476.49" width="12.33" height="12.03" fill="#f4e4e6"/>
<rect x="123.28" y="476.49" width="12.33" height="12.03" fill="#e7b6bc"/>
<rect x="135.36" y="476.49" width="12.33" height="12.03" fill="#e9bec3"/>
<rect x="147.44" y="476.49" width="12.33" height="12.03" fill="#e7b6bc"/>
<rect x="159.52" y="476.49" width="12.33" height="12.03" fill="#f1d8db"/>
<rect x="171.59" y="476.49" width="12.33" height="12.03" fill="#faf9fa"/>
<rect x="183.67" y="476.49" width="12.33" height="12.03" fill="#f4e4e6"/>
<rect x="195.75" y="476.49" width="12.33" height="12.03" fill="#fbfbfc"/>
<rect x="207.82" y="476.49" width="12.33" height="12.03" fill="#f6e9eb"/>
<rect x="62.9" y="488.26" width="12.33" height="12.03" fill="#abc7e1"/>
<rect x="74.98" y="488.26" width="12.33" height="12.03" fill="#b3cbe4"/>
<rect x="87.05" y="488.26" width="12.33" height="12.03" fill="#a4c2de"/>
<rect x="99.13" y="488.26" width="12.33" height="12.03" fill="#abc7e1"/>
<rect x="111.21" y="488.26" width="12.33" height="12.03" fill="#f1d8db"/>
<rect x="123.28" y="488.26" width="12.33" height="12.03" fill="#e2a7ae"/>
<rect x="135.36" y="488.26" width="12.33" height="12.03" fill="#e4afb5"/>
<rect x="147.44" y="488.26" width="12.33" height="12.03" fill="#edccd0"/>
<rect x="159.52" y="488.26" width="12.33" height="12.03" fill="#f2dee1"/>
<rect x="171.59" y="488.26" width="12.33" height="12.03" fill="#f2dee1"/>
<rect x="183.67" y="488.26" width="12.33" height="12.03" fill="#f2dee1"/>
<rect x="195.75" y="488.26" width="12.33" height="12.03" fill="#f6f8fa"/>
<rect x="207.82" y="488.26" width="12.33" height="12.03" fill="#ebf1f7"/>
<rect x="62.9" y="500.04" width="12.33" height="12.03" fill="#b3cbe4"/>
<rect x="74.98" y="500.04" width="12.33" height="12.03" fill="#b3cbe4"/>
<rect x="87.05" y="500.04" width="12.33" height="12.03" fill="#abc7e1"/>
<rect x="99.13" y="500.04" width="12.33" height="12.03" fill="#b3cbe4"/>
<rect x="111.21" y="500.04" width="12.33" height="12.03" fill="#e6edf5"/>
<rect x="123.28" y="500.04" width="12.33" height="12.03" fill="#fbfbfc"/>
<rect x="135.36" y="500.04" width="12.33" height="12.03" fill="#edccd0"/>
<rect x="147.44" y="500.04" width="12.33" height="12.03" fill="#f4e4e6"/>
<rect x="159.52" y="500.04" width="12.33" height="12.03" fill="#faf9fa"/>
<rect x="171.59" y="500.04" width="12.33" height="12.03" fill="#e7b6bc"/>
<rect x="183.67" y="500.04" width="12.33" height="12.03" fill="#f1d8db"/>
<rect x="195.75" y="500.04" width="12.33" height="12.03" fill="#e2a7ae"/>
<rect x="207.82" y="500.04" width="12.33" height="12.03" fill="#e9bec3"/>
<rect x="62.9" y="511.82" width="12.33" height="12.03" fill="#b3cbe4"/>
<rect x="74.98" y="511.82" width="12.33" height="12.03" fill="#b3cbe4"/>
<rect x="87.05" y="511.82" width="12.33" height="12.03" fill="#b3cbe4"/>
<rect x="99.13" y="511.82" width="12.33" height="12.03" fill="#b3cbe4"/>
<rect x="111.21" y="511.82" width="12.33" height="12.03" fill="#e6edf5"/>
<rect x="123.28" y="511.82" width="12.33" height="12.03" fill="#f4e4e6"/>
<rect x="135.36" y="511.82" width="12.33" height="12.03" fill="#f7eef0"/>
<rect x="147.44" y="511.82" width="12.33" height="12.03" fill="#f1d8db"/>
<rect x="159.52" y="511.82" width="12.33" height="12.03" fill="#dfe9f2"/>
<rect x="171.59" y="511.82" width="12.33" height="12.03" fill="#d8868f"/>
<rect x="183.67" y="511.82" width="12.33" height="12.03" fill="#e9bec3"/>
<rect x="195.75" y="511.82" width="12.33" height="12.03" fill="#e9bec3"/>
<rect x="207.82" y="511.82" width="12.33" height="12.03" fill="#f2dee1"/>
<rect x="62.9" y="523.6" width="12.33" height="12.03" fill="#a4c2de"/>
<rect x="74.98" y="523.6" width="12.33" height="12.03" fill="#b3cbe4"/>
<rect x="87.05" y="523.6" width="12.33" height="12.03" fill="#a4c2de"/>
<rect x="99.13" y="523.6" width="12.33" height="12.03" fill="#c1d5e9"/>
<rect x="111.21" y="523.6" width="12.33" height="12.03" fill="#d7e4f0"/>
<rect x="123.28" y="523.6" width="12.33" height="12.03" fill="#f1d8db"/>
<rect x="135.36" y="523.6" width="12.33" height="12.03" fill="#fbfbfc"/>
<rect x="147.44" y="523.6" width="12.33" height="12.03" fill="#f1d8db"/>
<rect x="159.52" y="523.6" width="12.33" height="12.03" fill="#f4e4e6"/>
<rect x="171.59" y="523.6" width="12.33" height="12.03" fill="#efd2d6"/>
<rect x="183.67" y="523.6" width="12.33" height="12.03" fill="#e9bec3"/>
<rect x="195.75" y="523.6" width="12.33" height="12.03" fill="#f7eef0"/>
<rect x="207.82" y="523.6" width="12.33" height="12.03" fill="#e2a7ae"/>
<rect x="62.9" y="535.38" width="12.33" height="12.03" fill="#b3cbe4"/>
<rect x="74.98" y="535.38" width="12.33" height="12.03" fill="#bad0e6"/>
<rect x="87.05" y="535.38" width="12.33" height="12.03" fill="#bad0e6"/>
<rect x="99.13" y="535.38" width="12.33" height="12.03" fill="#b3cbe4"/>
<rect x="111.21" y="535.38" width="12.33" height="12.03" fill="#dfe9f2"/>
<rect x="123.28" y="535.38" width="12.33" height="12.03" fill="#f1f4f8"/>
<rect x="135.36" y="535.38" width="12.33" height="12.03" fill="#f1f4f8"/>
<rect x="147.44" y="535.38" width="12.33" height="12.03" fill="#f6e9eb"/>
<rect x="159.52" y="535.38" width="12.33" height="12.03" fill="#f6e9eb"/>
<rect x="171.59" y="535.38" width="12.33" height="12.03" fill="#f6e9eb"/>
<rect x="183.67" y="535.38" width="12.33" height="12.03" fill="#e9bec3"/>
<rect x="195.75" y="535.38" width="12.33" height="12.03" fill="#e7b6bc"/>
<rect x="207.82" y="535.38" width="12.33" height="12.03" fill="#d3757e"/>
<rect x="62.9" y="547.16" width="12.33" height="12.03" fill="#b3cbe4"/>
<rect x="74.98" y="547.16" width="12.33" height="12.03" fill="#b3cbe4"/>
<rect x="87.05" y="547.16" width="12.33" height="12.03" fill="#8db3d7"/>
<rect x="99.13" y="547.16" width="12.33" height="12.03" fill="#abc7e1"/>
<rect x="111.21" y="547.16" width="12.33" height="12.03" fill="#f2dee1"/>
<rect x="123.28" y="547.16" width="12.33" height="12.03" fill="#f2dee1"/>
<rect x="135.36" y="547.16" width="12.33" height="12.03" fill="#fbfbfc"/>
<rect x="147.44" y="547.16" width="12.33" height="12.03" fill="#efd2d6"/>
<rect x="159.52" y="547.16" width="12.33" height="12.03" fill="#efd2d6"/>
<rect x="171.59" y="547.16" width="12.33" height="12.03" fill="#efd2d6"/>
<rect x="183.67" y="547.16" width="12.33" height="12.03" fill="#fbfbfc"/>
<rect x="195.75" y="547.16" width="12.33" height="12.03" fill="#f7eef0"/>
<rect x="207.82" y="547.16" width="12.33" height="12.03" fill="#e09fa6"/>
<rect x="62.9" y="558.94" width="12.33" height="12.03" fill="#b3cbe4"/>
<rect x="74.98" y="558.94" width="12.33" height="12.03" fill="#b3cbe4"/>
<rect x="87.05" y="558.94" width="12.33" height="12.03" fill="#bad0e6"/>
<rect x="99.13" y="558.94" width="12.33" height="12.03" fill="#b3cbe4"/>
<rect x="111.21" y="558.94" width="12.33" height="12.03" fill="#f8f2f4"/>
<rect x="123.28" y="558.94" width="12.33" height="12.03" fill="#f4e4e6"/>
<rect x="135.36" y="558.94" width="12.33" height="12.03" fill="#e9bec3"/>
<rect x="147.44" y="558.94" width="12.33" height="12.03" fill="#faf6f7"/>
<rect x="159.52" y="558.94" width="12.33" height="12.03" fill="#e6edf5"/>
<rect x="171.59" y="558.94" width="12.33" height="12.03" fill="#faf6f7"/>
<rect x="183.67" y="558.94" width="12.33" height="12.03" fill="#faf6f7"/>
<rect x="195.75" y="558.94" width="12.33" height="12.03" fill="#f2dee1"/>
<rect x="207.82" y="558.94" width="12.33" height="12.03" fill="#db8f97"/>
<rect x="62.9" y="570.72" width="12.33" height="12.03" fill="#b3cbe4"/>
<rect x="74.98" y="570.72" width="12.33" height="12.03" fill="#b3cbe4"/>
<rect x="87.05" y="570.72" width="12.33" height="12.03" fill="#b3cbe4"/>
<rect x="99.13" y="570.72" width="12.33" height="12.03" fill="#bad0e6"/>
<rect x="111.21" y="570.72" width="12.33" height="12.03" fill="#f1f4f8"/>
<rect x="123.28" y="570.72" width="12.33" height="12.03" fill="#f8f2f4"/>
<rect x="135.36" y="570.72" width="12.33" height="12.03" fill="#f4e4e6"/>
<rect x="147.44" y="570.72" width="12.33" height="12.03" fill="#fbfbfc"/>
<rect x="159.52" y="570.72" width="12.33" height="12.03" fill="#faf6f7"/>
<rect x="171.59" y="570.72" width="12.33" height="12.03" fill="#f1d8db"/>
<rect x="183.67" y="570.72" width="12.33" height="12.03" fill="#f4e4e6"/>
<rect x="195.75" y="570.72" width="12.33" height="12.03" fill="#f4e4e6"/>
<rect x="207.82" y="570.72" width="12.33" height="12.03" fill="#d67e87"/>
<path d="M62.9,187.89H46.7V199.67H62.9 M62.9,211.45H50.6V223.23H62.9 M62.9,246.79H48.2V258.57H62.9 M62.9,235.01H44.6V252.68H48.2 M50.6,217.34H40.2V243.84H44.6 M46.7,193.78H36.5V230.59H40.2 M62.9,305.68H46.7V317.46H62.9 M62.9,293.9H40.2V311.57H46.7 M62.9,282.12H36V302.74H40.2 M62.9,270.35H29.7V292.43H36 M36.5,212.18H25.5V281.39H29.7 M62.9,341.02H48.2V352.8H62.9 M62.9,329.24H34V346.91H48.2 M62.9,376.36H51.6V388.14H62.9 M62.9,411.7H56.4V423.48H62.9 M62.9,435.26H55.5V447.04H62.9 M56.4,417.59H53.5V441.15H55.5 M62.9,399.92H48.3V429.37H53.5 M51.6,382.25H43.5V414.64H48.3 M62.9,364.58H41.3V398.45H43.5 M62.9,482.38H57.1V494.15H62.9 M62.9,470.6H54.3V488.26H57.1 M62.9,458.82H48.3V479.43H54.3 M62.9,505.93H55.6V517.71H62.9 M62.9,529.49H52.7V541.27H62.9 M62.9,564.83H55.6V576.61H62.9 M62.9,553.05H51.6V570.72H55.6 M52.7,535.38H48.3V561.89H51.6 M55.6,511.82H47.3V548.63H48.3 M48.3,469.12H37.6V530.23H47.3 M41.3,381.51H33.2V499.68H37.6 M34,338.08H24.3V440.59H33.2 M25.5,246.79H16.5V389.34H24.3" stroke="#2a2a2a" stroke-width="0.9" fill="none" stroke-linecap="square"/>
<text x="221.8" y="191.69" font-family='"Liberation Serif", serif' font-size="8.8" fill="#961e2e" xml:space="preserve">aspartic endopeptidase Pep1/aspergillopepsin F  3[<tspan font-style="italic">Aspergillus fumigatus Af293</tspan> ]</text>
<text x="221.8" y="203.47" font-family='"Liberation Serif", serif' font-size="8.8" fill="#961e2e" xml:space="preserve">hypothetical protein LRAMOSA00476 [<tspan font-style="italic">Lichtheimia ramosa</tspan> ]</text>
<text x="221.8" y="215.25" font-family='"Liberation Serif", serif' font-size="8.8" fill="#1c1e68" xml:space="preserve">D−alanyl−D−alanine carboxypeptidase [<tspan font-style="italic">Lactobacillus plantarum</tspan> ]</text>
<text x="221.8" y="227.03" font-family='"Liberation Serif", serif' font-size="8.8" fill="#961e2e" xml:space="preserve">Saccharomyces cerevisiae YHR113W APE4 Cytoplasmic aspartyl aminopeptidase [<tspan font-style="italic">Kazachstania saulgeensis</tspan> ]</text>
<text x="221.8" y="238.81" font-family='"Liberation Serif", serif' font-size="8.8" fill="#961e2e" xml:space="preserve">Saccharomyces cerevisiae YMR314W PRE5 Alpha 6 subunit of the 20S proteasome [<tspan font-style="italic">Kazachstania saulgeensis</tspan> ]</text>
<text x="221.8" y="250.59" font-family='"Liberation Serif", serif' font-size="8.8" fill="#961e2e" xml:space="preserve">aspartic endopeptidase Pep1/aspergillopepsin F  1[<tspan font-style="italic">Byssochlamys spectabilis</tspan> ]</text>
<text x="221.8" y="262.37" font-family='"Liberation Serif", serif' font-size="8.8" fill="#961e2e" xml:space="preserve">beta−1,3−1,4−glucanase_1 [<tspan font-style="italic">Rhizomucor miehei</tspan> ]</text>
<text x="221.8" y="274.15" font-family='"Liberation Serif", serif' font-size="8.8" fill="#961e2e" xml:space="preserve">beta−1,3−1,4−glucanase_2 [<tspan font-style="italic">Rhizomucor miehei</tspan> ]</text>
<text x="221.8" y="285.93" font-family='"Liberation Serif", serif' font-size="8.8" fill="#961e2e" xml:space="preserve">peptidase c14 [<tspan font-style="italic">Lichtheimia corymbifera</tspan> ]</text>
<text x="221.8" y="297.7" font-family='"Liberation Serif", serif' font-size="8.8" fill="#961e2e" xml:space="preserve">hypothetical protein T310_5954 [<tspan font-style="italic">Rasamsonia emersonii</tspan> ]</text>
<text x="221.8" y="309.48" font-family='"Liberation Serif", serif' font-size="8.8" fill="#961e2e" xml:space="preserve">uncharacterized protein C5L36_0B03180 [<tspan font-style="italic">Pichia kudriavzevii</tspan> ]</text>
<text x="221.8" y="321.26" font-family='"Liberation Serif", serif' font-size="8.8" fill="#961e2e" xml:space="preserve">Saccharomyces cerevisiae YGL011C SCL1 Alpha 1 subunit of the 20S proteasome [<tspan font-style="italic">Kazachstania saulgeensis</tspan> ]</text>
<text x="221.8" y="333.04" font-family='"Liberation Serif", serif' font-size="8.8" fill="#961e2e" xml:space="preserve">endo−beta−glucanase [<tspan font-style="italic">uncultured Paecilomyces</tspan> ]</text>
<text x="221.8" y="344.82" font-family='"Liberation Serif", serif' font-size="8.8" fill="#961e2e" xml:space="preserve">Asp−domain−containing protein [<tspan font-style="italic">Aulographum hederae</tspan>]</text>
<text x="221.8" y="356.6" font-family='"Liberation Serif", serif' font-size="8.8" fill="#961e2e" xml:space="preserve">aspartic endopeptidase Pep1/aspergillopepsin F  2[<tspan font-style="italic">Byssochlamys spectabilis</tspan> ]</text>
<text x="221.8" y="368.38" font-family='"Liberation Serif", serif' font-size="8.8" fill="#1c1e68" xml:space="preserve">aminopeptidase P family protein_2 [<tspan font-style="italic">Lactobacillus jinshani</tspan> ]</text>
<text x="221.8" y="380.16" font-family='"Liberation Serif", serif' font-size="8.8" fill="#1c1e68" xml:space="preserve">C69 family dipeptidase_6 [<tspan font-style="italic">Lactobacillus jinshani</tspan> ]</text>
<text x="221.8" y="391.94" font-family='"Liberation Serif", serif' font-size="8.8" fill="#1c1e68" xml:space="preserve">ATP−dependent metallopeptidase FtsH/Yme1/Tma family protein_2 [<tspan font-style="italic">Lactobacillus jinshani</tspan> ]</text>
<text x="221.8" y="403.72" font-family='"Liberation Serif", serif' font-size="8.8" fill="#1c1e68" xml:space="preserve">aminopeptidase P family protein_1 [<tspan font-style="italic">Lactobacillus jinshani</tspan> ]</text>
<text x="221.8" y="415.5" font-family='"Liberation Serif", serif' font-size="8.8" fill="#1c1e68" xml:space="preserve">type I methionyl aminopeptidase_2 [<tspan font-style="italic">Lactobacillus jinshani</tspan> ]</text>
<text x="221.8" y="427.28" font-family='"Liberation Serif", serif' font-size="8.8" fill="#1c1e68" xml:space="preserve">type I methionyl aminopeptidase_3 [<tspan font-style="italic">Lactobacillus jinshani</tspan> ]</text>
<text x="221.8" y="439.06" font-family='"Liberation Serif", serif' font-size="8.8" fill="#1c1e68" xml:space="preserve">type I methionyl aminopeptidase_1 [<tspan font-style="italic">Lactobacillus jinshani</tspan> ]</text>
<text x="221.8" y="450.84" font-family='"Liberation Serif", serif' font-size="8.8" fill="#1c1e68" xml:space="preserve">C69 family dipeptidase_4[<tspan font-style="italic">Lactobacillus jinshani</tspan> ]</text>
<text x="221.8" y="462.62" font-family='"Liberation Serif", serif' font-size="8.8" fill="#1c1e68" xml:space="preserve">proline iminopeptidase−family hydrolase [<tspan font-style="italic">Lactobacillus jinshani</tspan> ]</text>
<text x="221.8" y="474.4" font-family='"Liberation Serif", serif' font-size="8.8" fill="#1c1e68" xml:space="preserve">M13 family peptidase_1 [<tspan font-style="italic">Lactobacillus jinshani</tspan> ]</text>
<text x="221.8" y="486.18" font-family='"Liberation Serif", serif' font-size="8.8" fill="#1c1e68" xml:space="preserve">C1 family peptidase [<tspan font-style="italic">Lactobacillus jinshani</tspan> ]</text>
<text x="221.8" y="497.95" font-family='"Liberation Serif", serif' font-size="8.8" fill="#1c1e68" xml:space="preserve">M1 family metallopeptidase [<tspan font-style="italic">Lactobacillus jinshani</tspan> ]</text>
<text x="221.8" y="509.73" font-family='"Liberation Serif", serif' font-size="8.8" fill="#1c1e68" xml:space="preserve">C69 family dipeptidase_1 [<tspan font-style="italic">Lactobacillus jinshani</tspan> ]</text>
<text x="221.8" y="521.51" font-family='"Liberation Serif", serif' font-size="8.8" fill="#1c1e68" xml:space="preserve">C69 family dipeptidase_5 [<tspan font-style="italic">Lactobacillus jinshani</tspan> ]</text>
<text x="221.8" y="533.29" font-family='"Liberation Serif", serif' font-size="8.8" fill="#1c1e68" xml:space="preserve">ATP−dependent metallopeptidase FtsH/Yme1/Tma family protein_1 [<tspan font-style="italic">Lactobacillus jinshani</tspan> ]</text>
<text x="221.8" y="545.07" font-family='"Liberation Serif", serif' font-size="8.8" fill="#1c1e68" xml:space="preserve">C69 family dipeptidase_2[<tspan font-style="italic">Lactobacillus jinshani</tspan> ]</text>
<text x="221.8" y="556.85" font-family='"Liberation Serif", serif' font-size="8.8" fill="#1c1e68" xml:space="preserve">M13 family peptidase_2 [<tspan font-style="italic">Lactobacillus jinshani</tspan> ]</text>
<text x="221.8" y="568.63" font-family='"Liberation Serif", serif' font-size="8.8" fill="#1c1e68" xml:space="preserve">C69 family dipeptidase_3[<tspan font-style="italic">Lactobacillus jinshani</tspan> ]</text>
<text x="221.8" y="580.41" font-family='"Liberation Serif", serif' font-size="8.8" fill="#1c1e68" xml:space="preserve">ATP−dependent Clp protease proteolytic subunit [<tspan font-style="italic">Lactobacillus jinshani</tspan> ]</text>
<text transform="translate(65.98,585.6) rotate(90)" font-family='"Liberation Serif", serif' font-size="8.7" fill="#111">JZ_0</text>
<text transform="translate(78.06,585.6) rotate(90)" font-family='"Liberation Serif", serif' font-size="8.7" fill="#111">JZ_4</text>
<text transform="translate(90.13,585.6) rotate(90)" font-family='"Liberation Serif", serif' font-size="8.7" fill="#111">JZ_8</text>
<text transform="translate(102.21,585.6) rotate(90)" font-family='"Liberation Serif", serif' font-size="8.7" fill="#111">JZ_12</text>
<text transform="translate(114.29,585.6) rotate(90)" font-family='"Liberation Serif", serif' font-size="8.7" fill="#111">JZ_18</text>
<text transform="translate(126.37,585.6) rotate(90)" font-family='"Liberation Serif", serif' font-size="8.7" fill="#111">JZ_24</text>
<text transform="translate(138.44,585.6) rotate(90)" font-family='"Liberation Serif", serif' font-size="8.7" fill="#111">JZ_32</text>
<text transform="translate(150.52,585.6) rotate(90)" font-family='"Liberation Serif", serif' font-size="8.7" fill="#111">JZ_44</text>
<text transform="translate(162.6,585.6) rotate(90)" font-family='"Liberation Serif", serif' font-size="8.7" fill="#111">JZ_56</text>
<text transform="translate(174.67,585.6) rotate(90)" font-family='"Liberation Serif", serif' font-size="8.7" fill="#111">JZ_68</text>
<text transform="translate(186.75,585.6) rotate(90)" font-family='"Liberation Serif", serif' font-size="8.7" fill="#111">JZ_100</text>
<text transform="translate(198.83,585.6) rotate(90)" font-family='"Liberation Serif", serif' font-size="8.7" fill="#111">JZ_130</text>
<text transform="translate(210.9,585.6) rotate(90)" font-family='"Liberation Serif", serif' font-size="8.7" fill="#111">JZ_220</text>
<rect x="573.1" y="183.2" width="11.9" height="11.4" fill="#0000f2"/>
<text x="589.7" y="192.6" font-family='"Liberation Serif", serif' font-size="10.5" fill="#222">Bacteria</text>
<rect x="573.1" y="197.9" width="11.9" height="11.5" fill="#f40000"/>
<text x="589.7" y="207.0" font-family='"Liberation Serif", serif' font-size="10.5" fill="#222">Fungi</text>
<linearGradient id="gB" x1="0" y1="0" x2="0" y2="1"><stop offset="0" stop-color="#a8384a"/><stop offset="0.1667" stop-color="#c4667a"/><stop offset="0.3333" stop-color="#dfb0bc"/><stop offset="0.5" stop-color="#f0eff3"/><stop offset="0.6667" stop-color="#b6cae1"/><stop offset="0.8333" stop-color="#7199c8"/><stop offset="1" stop-color="#3a6da8"/></linearGradient>
<rect x="643.1" y="184.1" width="8.8" height="131.9" fill="url(#gB)"/>
<text x="655" y="190.4" font-family='"Liberation Serif", serif' font-size="10" fill="#222">3</text>
<text x="655" y="211.45" font-family='"Liberation Serif", serif' font-size="10" fill="#222">2</text>
<text x="655" y="232.5" font-family='"Liberation Serif", serif' font-size="10" fill="#222">1</text>
<text x="655" y="253.55" font-family='"Liberation Serif", serif' font-size="10" fill="#222">0</text>
<text x="655" y="274.6" font-family='"Liberation Serif", serif' font-size="10" fill="#222">−1</text>
<text x="655" y="295.65" font-family='"Liberation Serif", serif' font-size="10" fill="#222">−2</text>
<text x="655" y="316.7" font-family='"Liberation Serif", serif' font-size="10" fill="#222">−3</text>
<text x="27.0" y="619.2" font-family='"Liberation Serif", serif' font-size="22" fill="#000">C</text>
<rect x="221.9" y="619.8" width="456.9" height="465.7" fill="#e4e9f3"/>
<rect x="58.4" y="620.9" width="12.83" height="10.33" fill="#abc7e1"/>
<rect x="70.98" y="620.9" width="12.83" height="10.33" fill="#bad0e6"/>
<rect x="83.55" y="620.9" width="12.83" height="10.33" fill="#abc7e1"/>
<rect x="96.13" y="620.9" width="12.83" height="10.33" fill="#b3cbe4"/>
<rect x="108.71" y="620.9" width="12.83" height="10.33" fill="#f4e4e6"/>
<rect x="121.28" y="620.9" width="12.83" height="10.33" fill="#dd979f"/>
<rect x="133.86" y="620.9" width="12.83" height="10.33" fill="#e4afb5"/>
<rect x="146.44" y="620.9" width="12.83" height="10.33" fill="#edccd0"/>
<rect x="159.02" y="620.9" width="12.83" height="10.33" fill="#f2dee1"/>
<rect x="171.59" y="620.9" width="12.83" height="10.33" fill="#f2dee1"/>
<rect x="184.17" y="620.9" width="12.83" height="10.33" fill="#f2dee1"/>
<rect x="196.75" y="620.9" width="12.83" height="10.33" fill="#f6f8fa"/>
<rect x="209.32" y="620.9" width="12.83" height="10.33" fill="#ebf1f7"/>
<rect x="58.4" y="630.98" width="12.83" height="10.33" fill="#abc7e1"/>
<rect x="70.98" y="630.98" width="12.83" height="10.33" fill="#b3cbe4"/>
<rect x="83.55" y="630.98" width="12.83" height="10.33" fill="#abc7e1"/>
<rect x="96.13" y="630.98" width="12.83" height="10.33" fill="#c1d5e9"/>
<rect x="108.71" y="630.98" width="12.83" height="10.33" fill="#f4e4e6"/>
<rect x="121.28" y="630.98" width="12.83" height="10.33" fill="#d67e87"/>
<rect x="133.86" y="630.98" width="12.83" height="10.33" fill="#db8f97"/>
<rect x="146.44" y="630.98" width="12.83" height="10.33" fill="#e4afb5"/>
<rect x="159.02" y="630.98" width="12.83" height="10.33" fill="#f1d8db"/>
<rect x="171.59" y="630.98" width="12.83" height="10.33" fill="#f7eef0"/>
<rect x="184.17" y="630.98" width="12.83" height="10.33" fill="#faf6f7"/>
<rect x="196.75" y="630.98" width="12.83" height="10.33" fill="#f6f8fa"/>
<rect x="209.32" y="630.98" width="12.83" height="10.33" fill="#d0dfee"/>
<rect x="58.4" y="641.07" width="12.83" height="10.33" fill="#b3cbe4"/>
<rect x="70.98" y="641.07" width="12.83" height="10.33" fill="#bad0e6"/>
<rect x="83.55" y="641.07" width="12.83" height="10.33" fill="#b3cbe4"/>
<rect x="96.13" y="641.07" width="12.83" height="10.33" fill="#b3cbe4"/>
<rect x="108.71" y="641.07" width="12.83" height="10.33" fill="#fbfbfc"/>
<rect x="121.28" y="641.07" width="12.83" height="10.33" fill="#f6e9eb"/>
<rect x="133.86" y="641.07" width="12.83" height="10.33" fill="#ebc5c9"/>
<rect x="146.44" y="641.07" width="12.83" height="10.33" fill="#ebc5c9"/>
<rect x="159.02" y="641.07" width="12.83" height="10.33" fill="#e7b6bc"/>
<rect x="171.59" y="641.07" width="12.83" height="10.33" fill="#e9bec3"/>
<rect x="184.17" y="641.07" width="12.83" height="10.33" fill="#e2a7ae"/>
<rect x="196.75" y="641.07" width="12.83" height="10.33" fill="#f2dee1"/>
<rect x="209.32" y="641.07" width="12.83" height="10.33" fill="#b3cbe4"/>
<rect x="58.4" y="651.15" width="12.83" height="10.33" fill="#abc7e1"/>
<rect x="70.98" y="651.15" width="12.83" height="10.33" fill="#bad0e6"/>
<rect x="83.55" y="651.15" width="12.83" height="10.33" fill="#94b8d9"/>
<rect x="96.13" y="651.15" width="12.83" height="10.33" fill="#abc7e1"/>
<rect x="108.71" y="651.15" width="12.83" height="10.33" fill="#fbfbfc"/>
<rect x="121.28" y="651.15" width="12.83" height="10.33" fill="#e9bec3"/>
<rect x="133.86" y="651.15" width="12.83" height="10.33" fill="#edccd0"/>
<rect x="146.44" y="651.15" width="12.83" height="10.33" fill="#ebc5c9"/>
<rect x="159.02" y="651.15" width="12.83" height="10.33" fill="#faf6f7"/>
<rect x="171.59" y="651.15" width="12.83" height="10.33" fill="#ebc5c9"/>
<rect x="184.17" y="651.15" width="12.83" height="10.33" fill="#f1d8db"/>
<rect x="196.75" y="651.15" width="12.83" height="10.33" fill="#f1d8db"/>
<rect x="209.32" y="651.15" width="12.83" height="10.33" fill="#ebf1f7"/>
<rect x="58.4" y="661.24" width="12.83" height="10.33" fill="#abc7e1"/>
<rect x="70.98" y="661.24" width="12.83" height="10.33" fill="#abc7e1"/>
<rect x="83.55" y="661.24" width="12.83" height="10.33" fill="#abc7e1"/>
<rect x="96.13" y="661.24" width="12.83" height="10.33" fill="#abc7e1"/>
<rect x="108.71" y="661.24" width="12.83" height="10.33" fill="#fbfbfc"/>
<rect x="121.28" y="661.24" width="12.83" height="10.33" fill="#efd2d6"/>
<rect x="133.86" y="661.24" width="12.83" height="10.33" fill="#e9bec3"/>
<rect x="146.44" y="661.24" width="12.83" height="10.33" fill="#edccd0"/>
<rect x="159.02" y="661.24" width="12.83" height="10.33" fill="#e9bec3"/>
<rect x="171.59" y="661.24" width="12.83" height="10.33" fill="#f1d8db"/>
<rect x="184.17" y="661.24" width="12.83" height="10.33" fill="#e9bec3"/>
<rect x="196.75" y="661.24" width="12.83" height="10.33" fill="#f6e9eb"/>
<rect x="209.32" y="661.24" width="12.83" height="10.33" fill="#ebf1f7"/>
<rect x="58.4" y="671.32" width="12.83" height="10.33" fill="#abc7e1"/>
<rect x="70.98" y="671.32" width="12.83" height="10.33" fill="#bad0e6"/>
<rect x="83.55" y="671.32" width="12.83" height="10.33" fill="#a4c2de"/>
<rect x="96.13" y="671.32" width="12.83" height="10.33" fill="#b3cbe4"/>
<rect x="108.71" y="671.32" width="12.83" height="10.33" fill="#f7eef0"/>
<rect x="121.28" y="671.32" width="12.83" height="10.33" fill="#e9bec3"/>
<rect x="133.86" y="671.32" width="12.83" height="10.33" fill="#edccd0"/>
<rect x="146.44" y="671.32" width="12.83" height="10.33" fill="#ebc5c9"/>
<rect x="159.02" y="671.32" width="12.83" height="10.33" fill="#ebc5c9"/>
<rect x="171.59" y="671.32" width="12.83" height="10.33" fill="#f4e4e6"/>
<rect x="184.17" y="671.32" width="12.83" height="10.33" fill="#efd2d6"/>
<rect x="196.75" y="671.32" width="12.83" height="10.33" fill="#f7eef0"/>
<rect x="209.32" y="671.32" width="12.83" height="10.33" fill="#fbfbfc"/>
<rect x="58.4" y="681.41" width="12.83" height="10.33" fill="#abc7e1"/>
<rect x="70.98" y="681.41" width="12.83" height="10.33" fill="#abc7e1"/>
<rect x="83.55" y="681.41" width="12.83" height="10.33" fill="#abc7e1"/>
<rect x="96.13" y="681.41" width="12.83" height="10.33" fill="#abc7e1"/>
<rect x="108.71" y="681.41" width="12.83" height="10.33" fill="#fbfbfc"/>
<rect x="121.28" y="681.41" width="12.83" height="10.33" fill="#e7b6bc"/>
<rect x="133.86" y="681.41" width="12.83" height="10.33" fill="#e9bec3"/>
<rect x="146.44" y="681.41" width="12.83" height="10.33" fill="#edccd0"/>
<rect x="159.02" y="681.41" width="12.83" height="10.33" fill="#f1d8db"/>
<rect x="171.59" y="681.41" width="12.83" height="10.33" fill="#edccd0"/>
<rect x="184.17" y="681.41" width="12.83" height="10.33" fill="#f1d8db"/>
<rect x="196.75" y="681.41" width="12.83" height="10.33" fill="#f8f2f4"/>
<rect x="209.32" y="681.41" width="12.83" height="10.33" fill="#fbfbfc"/>
<rect x="58.4" y="691.49" width="12.83" height="10.33" fill="#b3cbe4"/>
<rect x="70.98" y="691.49" width="12.83" height="10.33" fill="#b3cbe4"/>
<rect x="83.55" y="691.49" width="12.83" height="10.33" fill="#abc7e1"/>
<rect x="96.13" y="691.49" width="12.83" height="10.33" fill="#abc7e1"/>
<rect x="108.71" y="691.49" width="12.83" height="10.33" fill="#f8f2f4"/>
<rect x="121.28" y="691.49" width="12.83" height="10.33" fill="#f1d8db"/>
<rect x="133.86" y="691.49" width="12.83" height="10.33" fill="#f6f8fa"/>
<rect x="146.44" y="691.49" width="12.83" height="10.33" fill="#f1f4f8"/>
<rect x="159.02" y="691.49" width="12.83" height="10.33" fill="#d67e87"/>
<rect x="171.59" y="691.49" width="12.83" height="10.33" fill="#f1f4f8"/>
<rect x="184.17" y="691.49" width="12.83" height="10.33" fill="#edccd0"/>
<rect x="196.75" y="691.49" width="12.83" height="10.33" fill="#edccd0"/>
<rect x="209.32" y="691.49" width="12.83" height="10.33" fill="#f7eef0"/>
<rect x="58.4" y="701.58" width="12.83" height="10.33" fill="#b3cbe4"/>
<rect x="70.98" y="701.58" width="12.83" height="10.33" fill="#abc7e1"/>
<rect x="83.55" y="701.58" width="12.83" height="10.33" fill="#b3cbe4"/>
<rect x="96.13" y="701.58" width="12.83" height="10.33" fill="#a4c2de"/>
<rect x="108.71" y="701.58" width="12.83" height="10.33" fill="#faf6f7"/>
<rect x="121.28" y="701.58" width="12.83" height="10.33" fill="#e9bec3"/>
<rect x="133.86" y="701.58" width="12.83" height="10.33" fill="#f6e9eb"/>
<rect x="146.44" y="701.58" width="12.83" height="10.33" fill="#f6f8fa"/>
<rect x="159.02" y="701.58" width="12.83" height="10.33" fill="#d67e87"/>
<rect x="171.59" y="701.58" width="12.83" height="10.33" fill="#f6f8fa"/>
<rect x="184.17" y="701.58" width="12.83" height="10.33" fill="#efd2d6"/>
<rect x="196.75" y="701.58" width="12.83" height="10.33" fill="#f6e9eb"/>
<rect x="209.32" y="701.58" width="12.83" height="10.33" fill="#efd2d6"/>
<rect x="58.4" y="711.66" width="12.83" height="10.33" fill="#abc7e1"/>
<rect x="70.98" y="711.66" width="12.83" height="10.33" fill="#c1d5e9"/>
<rect x="83.55" y="711.66" width="12.83" height="10.33" fill="#94b8d9"/>
<rect x="96.13" y="711.66" width="12.83" height="10.33" fill="#b3cbe4"/>
<rect x="108.71" y="711.66" width="12.83" height="10.33" fill="#efd2d6"/>
<rect x="121.28" y="711.66" width="12.83" height="10.33" fill="#efd2d6"/>
<rect x="133.86" y="711.66" width="12.83" height="10.33" fill="#fbfbfc"/>
<rect x="146.44" y="711.66" width="12.83" height="10.33" fill="#f8f2f4"/>
<rect x="159.02" y="711.66" width="12.83" height="10.33" fill="#ebc5c9"/>
<rect x="171.59" y="711.66" width="12.83" height="10.33" fill="#dfe9f2"/>
<rect x="184.17" y="711.66" width="12.83" height="10.33" fill="#e9bec3"/>
<rect x="196.75" y="711.66" width="12.83" height="10.33" fill="#f4e4e6"/>
<rect x="209.32" y="711.66" width="12.83" height="10.33" fill="#e9bec3"/>
<rect x="58.4" y="721.75" width="12.83" height="10.33" fill="#9cbddc"/>
<rect x="70.98" y="721.75" width="12.83" height="10.33" fill="#abc7e1"/>
<rect x="83.55" y="721.75" width="12.83" height="10.33" fill="#a4c2de"/>
<rect x="96.13" y="721.75" width="12.83" height="10.33" fill="#a4c2de"/>
<rect x="108.71" y="721.75" width="12.83" height="10.33" fill="#f6e9eb"/>
<rect x="121.28" y="721.75" width="12.83" height="10.33" fill="#efd2d6"/>
<rect x="133.86" y="721.75" width="12.83" height="10.33" fill="#f6e9eb"/>
<rect x="146.44" y="721.75" width="12.83" height="10.33" fill="#f6e9eb"/>
<rect x="159.02" y="721.75" width="12.83" height="10.33" fill="#edccd0"/>
<rect x="171.59" y="721.75" width="12.83" height="10.33" fill="#f4e4e6"/>
<rect x="184.17" y="721.75" width="12.83" height="10.33" fill="#efd2d6"/>
<rect x="196.75" y="721.75" width="12.83" height="10.33" fill="#f4e4e6"/>
<rect x="209.32" y="721.75" width="12.83" height="10.33" fill="#f4e4e6"/>
<rect x="58.4" y="731.83" width="12.83" height="10.33" fill="#abc7e1"/>
<rect x="70.98" y="731.83" width="12.83" height="10.33" fill="#b3cbe4"/>
<rect x="83.55" y="731.83" width="12.83" height="10.33" fill="#abc7e1"/>
<rect x="96.13" y="731.83" width="12.83" height="10.33" fill="#abc7e1"/>
<rect x="108.71" y="731.83" width="12.83" height="10.33" fill="#d7e4f0"/>
<rect x="121.28" y="731.83" width="12.83" height="10.33" fill="#f8f2f4"/>
<rect x="133.86" y="731.83" width="12.83" height="10.33" fill="#f4e4e6"/>
<rect x="146.44" y="731.83" width="12.83" height="10.33" fill="#f6e9eb"/>
<rect x="159.02" y="731.83" width="12.83" height="10.33" fill="#f4e4e6"/>
<rect x="171.59" y="731.83" width="12.83" height="10.33" fill="#f4e4e6"/>
<rect x="184.17" y="731.83" width="12.83" height="10.33" fill="#f4e4e6"/>
<rect x="196.75" y="731.83" width="12.83" height="10.33" fill="#ebc5c9"/>
<rect x="209.32" y="731.83" width="12.83" height="10.33" fill="#d67e87"/>
<rect x="58.4" y="741.92" width="12.83" height="10.33" fill="#abc7e1"/>
<rect x="70.98" y="741.92" width="12.83" height="10.33" fill="#abc7e1"/>
<rect x="83.55" y="741.92" width="12.83" height="10.33" fill="#abc7e1"/>
<rect x="96.13" y="741.92" width="12.83" height="10.33" fill="#abc7e1"/>
<rect x="108.71" y="741.92" width="12.83" height="10.33" fill="#d7e4f0"/>
<rect x="121.28" y="741.92" width="12.83" height="10.33" fill="#f8f2f4"/>
<rect x="133.86" y="741.92" width="12.83" height="10.33" fill="#ebc5c9"/>
<rect x="146.44" y="741.92" width="12.83" height="10.33" fill="#f4e4e6"/>
<rect x="159.02" y="741.92" width="12.83" height="10.33" fill="#faf6f7"/>
<rect x="171.59" y="741.92" width="12.83" height="10.33" fill="#efd2d6"/>
<rect x="184.17" y="741.92" width="12.83" height="10.33" fill="#efd2d6"/>
<rect x="196.75" y="741.92" width="12.83" height="10.33" fill="#e4afb5"/>
<rect x="209.32" y="741.92" width="12.83" height="10.33" fill="#ebc5c9"/>
<rect x="58.4" y="752" width="12.83" height="10.33" fill="#abc7e1"/>
<rect x="70.98" y="752" width="12.83" height="10.33" fill="#abc7e1"/>
<rect x="83.55" y="752" width="12.83" height="10.33" fill="#abc7e1"/>
<rect x="96.13" y="752" width="12.83" height="10.33" fill="#abc7e1"/>
<rect x="108.71" y="752" width="12.83" height="10.33" fill="#fbfbfc"/>
<rect x="121.28" y="752" width="12.83" height="10.33" fill="#f2dee1"/>
<rect x="133.86" y="752" width="12.83" height="10.33" fill="#ebf1f7"/>
<rect x="146.44" y="752" width="12.83" height="10.33" fill="#f1d8db"/>
<rect x="159.02" y="752" width="12.83" height="10.33" fill="#e7b6bc"/>
<rect x="171.59" y="752" width="12.83" height="10.33" fill="#f6e9eb"/>
<rect x="184.17" y="752" width="12.83" height="10.33" fill="#dd979f"/>
<rect x="196.75" y="752" width="12.83" height="10.33" fill="#ebc5c9"/>
<rect x="209.32" y="752" width="12.83" height="10.33" fill="#f7eef0"/>
<rect x="58.4" y="762.09" width="12.83" height="10.33" fill="#abc7e1"/>
<rect x="70.98" y="762.09" width="12.83" height="10.33" fill="#c1d5e9"/>
<rect x="83.55" y="762.09" width="12.83" height="10.33" fill="#abc7e1"/>
<rect x="96.13" y="762.09" width="12.83" height="10.33" fill="#abc7e1"/>
<rect x="108.71" y="762.09" width="12.83" height="10.33" fill="#ebf1f7"/>
<rect x="121.28" y="762.09" width="12.83" height="10.33" fill="#f8f2f4"/>
<rect x="133.86" y="762.09" width="12.83" height="10.33" fill="#f4e4e6"/>
<rect x="146.44" y="762.09" width="12.83" height="10.33" fill="#e7b6bc"/>
<rect x="159.02" y="762.09" width="12.83" height="10.33" fill="#f4e4e6"/>
<rect x="171.59" y="762.09" width="12.83" height="10.33" fill="#f1d8db"/>
<rect x="184.17" y="762.09" width="12.83" height="10.33" fill="#db8f97"/>
<rect x="196.75" y="762.09" width="12.83" height="10.33" fill="#edccd0"/>
<rect x="209.32" y="762.09" width="12.83" height="10.33" fill="#f6e9eb"/>
<rect x="58.4" y="772.17" width="12.83" height="10.33" fill="#b3cbe4"/>
<rect x="70.98" y="772.17" width="12.83" height="10.33" fill="#b3cbe4"/>
<rect x="83.55" y="772.17" width="12.83" height="10.33" fill="#a4c2de"/>
<rect x="96.13" y="772.17" width="12.83" height="10.33" fill="#a4c2de"/>
<rect x="108.71" y="772.17" width="12.83" height="10.33" fill="#f1f4f8"/>
<rect x="121.28" y="772.17" width="12.83" height="10.33" fill="#edccd0"/>
<rect x="133.86" y="772.17" width="12.83" height="10.33" fill="#f4e4e6"/>
<rect x="146.44" y="772.17" width="12.83" height="10.33" fill="#e7b6bc"/>
<rect x="159.02" y="772.17" width="12.83" height="10.33" fill="#e9bec3"/>
<rect x="171.59" y="772.17" width="12.83" height="10.33" fill="#f4e4e6"/>
<rect x="184.17" y="772.17" width="12.83" height="10.33" fill="#e4afb5"/>
<rect x="196.75" y="772.17" width="12.83" height="10.33" fill="#f1d8db"/>
<rect x="209.32" y="772.17" width="12.83" height="10.33" fill="#fbfbfc"/>
<rect x="58.4" y="782.26" width="12.83" height="10.33" fill="#abc7e1"/>
<rect x="70.98" y="782.26" width="12.83" height="10.33" fill="#b3cbe4"/>
<rect x="83.55" y="782.26" width="12.83" height="10.33" fill="#a4c2de"/>
<rect x="96.13" y="782.26" width="12.83" height="10.33" fill="#abc7e1"/>
<rect x="108.71" y="782.26" width="12.83" height="10.33" fill="#dfe9f2"/>
<rect x="121.28" y="782.26" width="12.83" height="10.33" fill="#f4e4e6"/>
<rect x="133.86" y="782.26" width="12.83" height="10.33" fill="#e9bec3"/>
<rect x="146.44" y="782.26" width="12.83" height="10.33" fill="#e9bec3"/>
<rect x="159.02" y="782.26" width="12.83" height="10.33" fill="#f2dee1"/>
<rect x="171.59" y="782.26" width="12.83" height="10.33" fill="#ebc5c9"/>
<rect x="184.17" y="782.26" width="12.83" height="10.33" fill="#edccd0"/>
<rect x="196.75" y="782.26" width="12.83" height="10.33" fill="#edccd0"/>
<rect x="209.32" y="782.26" width="12.83" height="10.33" fill="#f6e9eb"/>
<rect x="58.4" y="792.34" width="12.83" height="10.33" fill="#b3cbe4"/>
<rect x="70.98" y="792.34" width="12.83" height="10.33" fill="#b3cbe4"/>
<rect x="83.55" y="792.34" width="12.83" height="10.33" fill="#a4c2de"/>
<rect x="96.13" y="792.34" width="12.83" height="10.33" fill="#b3cbe4"/>
<rect x="108.71" y="792.34" width="12.83" height="10.33" fill="#fbfbfc"/>
<rect x="121.28" y="792.34" width="12.83" height="10.33" fill="#f1d8db"/>
<rect x="133.86" y="792.34" width="12.83" height="10.33" fill="#fbfbfc"/>
<rect x="146.44" y="792.34" width="12.83" height="10.33" fill="#e7b6bc"/>
<rect x="159.02" y="792.34" width="12.83" height="10.33" fill="#faf9fa"/>
<rect x="171.59" y="792.34" width="12.83" height="10.33" fill="#e9bec3"/>
<rect x="184.17" y="792.34" width="12.83" height="10.33" fill="#ebc5c9"/>
<rect x="196.75" y="792.34" width="12.83" height="10.33" fill="#efd2d6"/>
<rect x="209.32" y="792.34" width="12.83" height="10.33" fill="#edccd0"/>
<rect x="58.4" y="802.43" width="12.83" height="10.33" fill="#b3cbe4"/>
<rect x="70.98" y="802.43" width="12.83" height="10.33" fill="#abc7e1"/>
<rect x="83.55" y="802.43" width="12.83" height="10.33" fill="#a4c2de"/>
<rect x="96.13" y="802.43" width="12.83" height="10.33" fill="#a4c2de"/>
<rect x="108.71" y="802.43" width="12.83" height="10.33" fill="#fbfbfc"/>
<rect x="121.28" y="802.43" width="12.83" height="10.33" fill="#f4e4e6"/>
<rect x="133.86" y="802.43" width="12.83" height="10.33" fill="#f4e4e6"/>
<rect x="146.44" y="802.43" width="12.83" height="10.33" fill="#e9bec3"/>
<rect x="159.02" y="802.43" width="12.83" height="10.33" fill="#ebc5c9"/>
<rect x="171.59" y="802.43" width="12.83" height="10.33" fill="#e09fa6"/>
<rect x="184.17" y="802.43" width="12.83" height="10.33" fill="#f8f2f4"/>
<rect x="196.75" y="802.43" width="12.83" height="10.33" fill="#f4e4e6"/>
<rect x="209.32" y="802.43" width="12.83" height="10.33" fill="#f4e4e6"/>
<rect x="58.4" y="812.51" width="12.83" height="10.33" fill="#f2dee1"/>
<rect x="70.98" y="812.51" width="12.83" height="10.33" fill="#8db3d7"/>
<rect x="83.55" y="812.51" width="12.83" height="10.33" fill="#f2dee1"/>
<rect x="96.13" y="812.51" width="12.83" height="10.33" fill="#d7e4f0"/>
<rect x="108.71" y="812.51" width="12.83" height="10.33" fill="#e09fa6"/>
<rect x="121.28" y="812.51" width="12.83" height="10.33" fill="#d8868f"/>
<rect x="133.86" y="812.51" width="12.83" height="10.33" fill="#f4e4e6"/>
<rect x="146.44" y="812.51" width="12.83" height="10.33" fill="#f4e4e6"/>
<rect x="159.02" y="812.51" width="12.83" height="10.33" fill="#d7e4f0"/>
<rect x="171.59" y="812.51" width="12.83" height="10.33" fill="#f7eef0"/>
<rect x="184.17" y="812.51" width="12.83" height="10.33" fill="#fbfbfc"/>
<rect x="196.75" y="812.51" width="12.83" height="10.33" fill="#bad0e6"/>
<rect x="209.32" y="812.51" width="12.83" height="10.33" fill="#94b8d9"/>
<rect x="58.4" y="822.6" width="12.83" height="10.33" fill="#c9daeb"/>
<rect x="70.98" y="822.6" width="12.83" height="10.33" fill="#dfe9f2"/>
<rect x="83.55" y="822.6" width="12.83" height="10.33" fill="#c1d5e9"/>
<rect x="96.13" y="822.6" width="12.83" height="10.33" fill="#c1d5e9"/>
<rect x="108.71" y="822.6" width="12.83" height="10.33" fill="#e2a7ae"/>
<rect x="121.28" y="822.6" width="12.83" height="10.33" fill="#c54653"/>
<rect x="133.86" y="822.6" width="12.83" height="10.33" fill="#faf6f7"/>
<rect x="146.44" y="822.6" width="12.83" height="10.33" fill="#fbfbfc"/>
<rect x="159.02" y="822.6" width="12.83" height="10.33" fill="#f7eef0"/>
<rect x="171.59" y="822.6" width="12.83" height="10.33" fill="#d0dfee"/>
<rect x="184.17" y="822.6" width="12.83" height="10.33" fill="#fbfbfc"/>
<rect x="196.75" y="822.6" width="12.83" height="10.33" fill="#dfe9f2"/>
<rect x="209.32" y="822.6" width="12.83" height="10.33" fill="#faf6f7"/>
<rect x="58.4" y="832.68" width="12.83" height="10.33" fill="#bad0e6"/>
<rect x="70.98" y="832.68" width="12.83" height="10.33" fill="#bad0e6"/>
<rect x="83.55" y="832.68" width="12.83" height="10.33" fill="#b3cbe4"/>
<rect x="96.13" y="832.68" width="12.83" height="10.33" fill="#bad0e6"/>
<rect x="108.71" y="832.68" width="12.83" height="10.33" fill="#dd979f"/>
<rect x="121.28" y="832.68" width="12.83" height="10.33" fill="#db8f97"/>
<rect x="133.86" y="832.68" width="12.83" height="10.33" fill="#f4e4e6"/>
<rect x="146.44" y="832.68" width="12.83" height="10.33" fill="#edccd0"/>
<rect x="159.02" y="832.68" width="12.83" height="10.33" fill="#f6e9eb"/>
<rect x="171.59" y="832.68" width="12.83" height="10.33" fill="#ebf1f7"/>
<rect x="184.17" y="832.68" width="12.83" height="10.33" fill="#ebf1f7"/>
<rect x="196.75" y="832.68" width="12.83" height="10.33" fill="#ebf1f7"/>
<rect x="209.32" y="832.68" width="12.83" height="10.33" fill="#f4e4e6"/>
<rect x="58.4" y="842.77" width="12.83" height="10.33" fill="#b3cbe4"/>
<rect x="70.98" y="842.77" width="12.83" height="10.33" fill="#abc7e1"/>
<rect x="83.55" y="842.77" width="12.83" height="10.33" fill="#9cbddc"/>
<rect x="96.13" y="842.77" width="12.83" height="10.33" fill="#b3cbe4"/>
<rect x="108.71" y="842.77" width="12.83" height="10.33" fill="#ebc5c9"/>
<rect x="121.28" y="842.77" width="12.83" height="10.33" fill="#e9bec3"/>
<rect x="133.86" y="842.77" width="12.83" height="10.33" fill="#edccd0"/>
<rect x="146.44" y="842.77" width="12.83" height="10.33" fill="#edccd0"/>
<rect x="159.02" y="842.77" width="12.83" height="10.33" fill="#edccd0"/>
<rect x="171.59" y="842.77" width="12.83" height="10.33" fill="#fbfbfc"/>
<rect x="184.17" y="842.77" width="12.83" height="10.33" fill="#faf6f7"/>
<rect x="196.75" y="842.77" width="12.83" height="10.33" fill="#faf6f7"/>
<rect x="209.32" y="842.77" width="12.83" height="10.33" fill="#f6e9eb"/>
<rect x="58.4" y="852.85" width="12.83" height="10.33" fill="#8db3d7"/>
<rect x="70.98" y="852.85" width="12.83" height="10.33" fill="#f6e9eb"/>
<rect x="83.55" y="852.85" width="12.83" height="10.33" fill="#efd2d6"/>
<rect x="96.13" y="852.85" width="12.83" height="10.33" fill="#c23c49"/>
<rect x="108.71" y="852.85" width="12.83" height="10.33" fill="#f4e4e6"/>
<rect x="121.28" y="852.85" width="12.83" height="10.33" fill="#ebf1f7"/>
<rect x="133.86" y="852.85" width="12.83" height="10.33" fill="#ebf1f7"/>
<rect x="146.44" y="852.85" width="12.83" height="10.33" fill="#dfe9f2"/>
<rect x="159.02" y="852.85" width="12.83" height="10.33" fill="#d7e4f0"/>
<rect x="171.59" y="852.85" width="12.83" height="10.33" fill="#ebf1f7"/>
<rect x="184.17" y="852.85" width="12.83" height="10.33" fill="#ebf1f7"/>
<rect x="196.75" y="852.85" width="12.83" height="10.33" fill="#ebf1f7"/>
<rect x="209.32" y="852.85" width="12.83" height="10.33" fill="#d7e4f0"/>
<rect x="58.4" y="862.93" width="12.83" height="10.33" fill="#94b8d9"/>
<rect x="70.98" y="862.93" width="12.83" height="10.33" fill="#e6edf5"/>
<rect x="83.55" y="862.93" width="12.83" height="10.33" fill="#d8868f"/>
<rect x="96.13" y="862.93" width="12.83" height="10.33" fill="#db8f97"/>
<rect x="108.71" y="862.93" width="12.83" height="10.33" fill="#f1d8db"/>
<rect x="121.28" y="862.93" width="12.83" height="10.33" fill="#ebf1f7"/>
<rect x="133.86" y="862.93" width="12.83" height="10.33" fill="#ebf1f7"/>
<rect x="146.44" y="862.93" width="12.83" height="10.33" fill="#ebf1f7"/>
<rect x="159.02" y="862.93" width="12.83" height="10.33" fill="#d0dfee"/>
<rect x="171.59" y="862.93" width="12.83" height="10.33" fill="#d7e4f0"/>
<rect x="184.17" y="862.93" width="12.83" height="10.33" fill="#ebf1f7"/>
<rect x="196.75" y="862.93" width="12.83" height="10.33" fill="#faf6f7"/>
<rect x="209.32" y="862.93" width="12.83" height="10.33" fill="#ebf1f7"/>
<rect x="58.4" y="873.02" width="12.83" height="10.33" fill="#94b8d9"/>
<rect x="70.98" y="873.02" width="12.83" height="10.33" fill="#faf9fa"/>
<rect x="83.55" y="873.02" width="12.83" height="10.33" fill="#d8868f"/>
<rect x="96.13" y="873.02" width="12.83" height="10.33" fill="#d8868f"/>
<rect x="108.71" y="873.02" width="12.83" height="10.33" fill="#edccd0"/>
<rect x="121.28" y="873.02" width="12.83" height="10.33" fill="#f1f4f8"/>
<rect x="133.86" y="873.02" width="12.83" height="10.33" fill="#e6edf5"/>
<rect x="146.44" y="873.02" width="12.83" height="10.33" fill="#e6edf5"/>
<rect x="159.02" y="873.02" width="12.83" height="10.33" fill="#d7e4f0"/>
<rect x="171.59" y="873.02" width="12.83" height="10.33" fill="#ebf1f7"/>
<rect x="184.17" y="873.02" width="12.83" height="10.33" fill="#d7e4f0"/>
<rect x="196.75" y="873.02" width="12.83" height="10.33" fill="#f1f4f8"/>
<rect x="209.32" y="873.02" width="12.83" height="10.33" fill="#bad0e6"/>
<rect x="58.4" y="883.1" width="12.83" height="10.33" fill="#b3cbe4"/>
<rect x="70.98" y="883.1" width="12.83" height="10.33" fill="#d67e87"/>
<rect x="83.55" y="883.1" width="12.83" height="10.33" fill="#fbfbfc"/>
<rect x="96.13" y="883.1" width="12.83" height="10.33" fill="#db8f97"/>
<rect x="108.71" y="883.1" width="12.83" height="10.33" fill="#d7e4f0"/>
<rect x="121.28" y="883.1" width="12.83" height="10.33" fill="#d7e4f0"/>
<rect x="133.86" y="883.1" width="12.83" height="10.33" fill="#f7eef0"/>
<rect x="146.44" y="883.1" width="12.83" height="10.33" fill="#d7e4f0"/>
<rect x="159.02" y="883.1" width="12.83" height="10.33" fill="#e6edf5"/>
<rect x="171.59" y="883.1" width="12.83" height="10.33" fill="#f6f8fa"/>
<rect x="184.17" y="883.1" width="12.83" height="10.33" fill="#dfe9f2"/>
<rect x="196.75" y="883.1" width="12.83" height="10.33" fill="#d7e4f0"/>
<rect x="209.32" y="883.1" width="12.83" height="10.33" fill="#c1d5e9"/>
<rect x="58.4" y="893.19" width="12.83" height="10.33" fill="#f1d8db"/>
<rect x="70.98" y="893.19" width="12.83" height="10.33" fill="#efd2d6"/>
<rect x="83.55" y="893.19" width="12.83" height="10.33" fill="#efd2d6"/>
<rect x="96.13" y="893.19" width="12.83" height="10.33" fill="#d8868f"/>
<rect x="108.71" y="893.19" width="12.83" height="10.33" fill="#d7e4f0"/>
<rect x="121.28" y="893.19" width="12.83" height="10.33" fill="#7ea9d2"/>
<rect x="133.86" y="893.19" width="12.83" height="10.33" fill="#abc7e1"/>
<rect x="146.44" y="893.19" width="12.83" height="10.33" fill="#bad0e6"/>
<rect x="159.02" y="893.19" width="12.83" height="10.33" fill="#f1f4f8"/>
<rect x="171.59" y="893.19" width="12.83" height="10.33" fill="#f6f8fa"/>
<rect x="184.17" y="893.19" width="12.83" height="10.33" fill="#e6edf5"/>
<rect x="196.75" y="893.19" width="12.83" height="10.33" fill="#e6edf5"/>
<rect x="209.32" y="893.19" width="12.83" height="10.33" fill="#f2dee1"/>
<rect x="58.4" y="903.27" width="12.83" height="10.33" fill="#f8f2f4"/>
<rect x="70.98" y="903.27" width="12.83" height="10.33" fill="#e7b6bc"/>
<rect x="83.55" y="903.27" width="12.83" height="10.33" fill="#e9bec3"/>
<rect x="96.13" y="903.27" width="12.83" height="10.33" fill="#db8f97"/>
<rect x="108.71" y="903.27" width="12.83" height="10.33" fill="#ebf1f7"/>
<rect x="121.28" y="903.27" width="12.83" height="10.33" fill="#85aed4"/>
<rect x="133.86" y="903.27" width="12.83" height="10.33" fill="#abc7e1"/>
<rect x="146.44" y="903.27" width="12.83" height="10.33" fill="#ebf1f7"/>
<rect x="159.02" y="903.27" width="12.83" height="10.33" fill="#dfe9f2"/>
<rect x="171.59" y="903.27" width="12.83" height="10.33" fill="#f8f2f4"/>
<rect x="184.17" y="903.27" width="12.83" height="10.33" fill="#dfe9f2"/>
<rect x="196.75" y="903.27" width="12.83" height="10.33" fill="#ebf1f7"/>
<rect x="209.32" y="903.27" width="12.83" height="10.33" fill="#d7e4f0"/>
<rect x="58.4" y="913.36" width="12.83" height="10.33" fill="#fbfbfc"/>
<rect x="70.98" y="913.36" width="12.83" height="10.33" fill="#fbfbfc"/>
<rect x="83.55" y="913.36" width="12.83" height="10.33" fill="#cb5965"/>
<rect x="96.13" y="913.36" width="12.83" height="10.33" fill="#db8f97"/>
<rect x="108.71" y="913.36" width="12.83" height="10.33" fill="#f6f8fa"/>
<rect x="121.28" y="913.36" width="12.83" height="10.33" fill="#c1d5e9"/>
<rect x="133.86" y="913.36" width="12.83" height="10.33" fill="#dfe9f2"/>
<rect x="146.44" y="913.36" width="12.83" height="10.33" fill="#d7e4f0"/>
<rect x="159.02" y="913.36" width="12.83" height="10.33" fill="#e6edf5"/>
<rect x="171.59" y="913.36" width="12.83" height="10.33" fill="#dfe9f2"/>
<rect x="184.17" y="913.36" width="12.83" height="10.33" fill="#dfe9f2"/>
<rect x="196.75" y="913.36" width="12.83" height="10.33" fill="#bad0e6"/>
<rect x="209.32" y="913.36" width="12.83" height="10.33" fill="#dfe9f2"/>
<rect x="58.4" y="923.44" width="12.83" height="10.33" fill="#f1f4f8"/>
<rect x="70.98" y="923.44" width="12.83" height="10.33" fill="#e9bec3"/>
<rect x="83.55" y="923.44" width="12.83" height="10.33" fill="#d67e87"/>
<rect x="96.13" y="923.44" width="12.83" height="10.33" fill="#e09fa6"/>
<rect x="108.71" y="923.44" width="12.83" height="10.33" fill="#f1f4f8"/>
<rect x="121.28" y="923.44" width="12.83" height="10.33" fill="#d7e4f0"/>
<rect x="133.86" y="923.44" width="12.83" height="10.33" fill="#faf6f7"/>
<rect x="146.44" y="923.44" width="12.83" height="10.33" fill="#d7e4f0"/>
<rect x="159.02" y="923.44" width="12.83" height="10.33" fill="#c1d5e9"/>
<rect x="171.59" y="923.44" width="12.83" height="10.33" fill="#c1d5e9"/>
<rect x="184.17" y="923.44" width="12.83" height="10.33" fill="#c1d5e9"/>
<rect x="196.75" y="923.44" width="12.83" height="10.33" fill="#d7e4f0"/>
<rect x="209.32" y="923.44" width="12.83" height="10.33" fill="#e6edf5"/>
<rect x="58.4" y="933.53" width="12.83" height="10.33" fill="#e4afb5"/>
<rect x="70.98" y="933.53" width="12.83" height="10.33" fill="#e09fa6"/>
<rect x="83.55" y="933.53" width="12.83" height="10.33" fill="#e4afb5"/>
<rect x="96.13" y="933.53" width="12.83" height="10.33" fill="#e4afb5"/>
<rect x="108.71" y="933.53" width="12.83" height="10.33" fill="#f1f4f8"/>
<rect x="121.28" y="933.53" width="12.83" height="10.33" fill="#abc7e1"/>
<rect x="133.86" y="933.53" width="12.83" height="10.33" fill="#bad0e6"/>
<rect x="146.44" y="933.53" width="12.83" height="10.33" fill="#d0dfee"/>
<rect x="159.02" y="933.53" width="12.83" height="10.33" fill="#e6edf5"/>
<rect x="171.59" y="933.53" width="12.83" height="10.33" fill="#c9daeb"/>
<rect x="184.17" y="933.53" width="12.83" height="10.33" fill="#d0dfee"/>
<rect x="196.75" y="933.53" width="12.83" height="10.33" fill="#c9daeb"/>
<rect x="209.32" y="933.53" width="12.83" height="10.33" fill="#f8f2f4"/>
<rect x="58.4" y="943.61" width="12.83" height="10.33" fill="#d06c76"/>
<rect x="70.98" y="943.61" width="12.83" height="10.33" fill="#e7b6bc"/>
<rect x="83.55" y="943.61" width="12.83" height="10.33" fill="#edccd0"/>
<rect x="96.13" y="943.61" width="12.83" height="10.33" fill="#edccd0"/>
<rect x="108.71" y="943.61" width="12.83" height="10.33" fill="#f1f4f8"/>
<rect x="121.28" y="943.61" width="12.83" height="10.33" fill="#abc7e1"/>
<rect x="133.86" y="943.61" width="12.83" height="10.33" fill="#bad0e6"/>
<rect x="146.44" y="943.61" width="12.83" height="10.33" fill="#d7e4f0"/>
<rect x="159.02" y="943.61" width="12.83" height="10.33" fill="#d7e4f0"/>
<rect x="171.59" y="943.61" width="12.83" height="10.33" fill="#e6edf5"/>
<rect x="184.17" y="943.61" width="12.83" height="10.33" fill="#e6edf5"/>
<rect x="196.75" y="943.61" width="12.83" height="10.33" fill="#d7e4f0"/>
<rect x="209.32" y="943.61" width="12.83" height="10.33" fill="#ebf1f7"/>
<rect x="58.4" y="953.7" width="12.83" height="10.33" fill="#d06c76"/>
<rect x="70.98" y="953.7" width="12.83" height="10.33" fill="#fbfbfc"/>
<rect x="83.55" y="953.7" width="12.83" height="10.33" fill="#f6e9eb"/>
<rect x="96.13" y="953.7" width="12.83" height="10.33" fill="#e7b6bc"/>
<rect x="108.71" y="953.7" width="12.83" height="10.33" fill="#ebf1f7"/>
<rect x="121.28" y="953.7" width="12.83" height="10.33" fill="#a4c2de"/>
<rect x="133.86" y="953.7" width="12.83" height="10.33" fill="#a4c2de"/>
<rect x="146.44" y="953.7" width="12.83" height="10.33" fill="#d7e4f0"/>
<rect x="159.02" y="953.7" width="12.83" height="10.33" fill="#fbfbfc"/>
<rect x="171.59" y="953.7" width="12.83" height="10.33" fill="#ebf1f7"/>
<rect x="184.17" y="953.7" width="12.83" height="10.33" fill="#f1f4f8"/>
<rect x="196.75" y="953.7" width="12.83" height="10.33" fill="#f1f4f8"/>
<rect x="209.32" y="953.7" width="12.83" height="10.33" fill="#f8f2f4"/>
<rect x="58.4" y="963.78" width="12.83" height="10.33" fill="#d8868f"/>
<rect x="70.98" y="963.78" width="12.83" height="10.33" fill="#f7eef0"/>
<rect x="83.55" y="963.78" width="12.83" height="10.33" fill="#e9bec3"/>
<rect x="96.13" y="963.78" width="12.83" height="10.33" fill="#f7eef0"/>
<rect x="108.71" y="963.78" width="12.83" height="10.33" fill="#ebf1f7"/>
<rect x="121.28" y="963.78" width="12.83" height="10.33" fill="#bad0e6"/>
<rect x="133.86" y="963.78" width="12.83" height="10.33" fill="#d7e4f0"/>
<rect x="146.44" y="963.78" width="12.83" height="10.33" fill="#e6edf5"/>
<rect x="159.02" y="963.78" width="12.83" height="10.33" fill="#faf6f7"/>
<rect x="171.59" y="963.78" width="12.83" height="10.33" fill="#6e9fcc"/>
<rect x="184.17" y="963.78" width="12.83" height="10.33" fill="#f1f4f8"/>
<rect x="196.75" y="963.78" width="12.83" height="10.33" fill="#d7e4f0"/>
<rect x="209.32" y="963.78" width="12.83" height="10.33" fill="#e9bec3"/>
<rect x="58.4" y="973.87" width="12.83" height="10.33" fill="#d67e87"/>
<rect x="70.98" y="973.87" width="12.83" height="10.33" fill="#db8f97"/>
<rect x="83.55" y="973.87" width="12.83" height="10.33" fill="#f1d8db"/>
<rect x="96.13" y="973.87" width="12.83" height="10.33" fill="#fbfbfc"/>
<rect x="108.71" y="973.87" width="12.83" height="10.33" fill="#dfe9f2"/>
<rect x="121.28" y="973.87" width="12.83" height="10.33" fill="#d7e4f0"/>
<rect x="133.86" y="973.87" width="12.83" height="10.33" fill="#e6edf5"/>
<rect x="146.44" y="973.87" width="12.83" height="10.33" fill="#d7e4f0"/>
<rect x="159.02" y="973.87" width="12.83" height="10.33" fill="#dfe9f2"/>
<rect x="171.59" y="973.87" width="12.83" height="10.33" fill="#e6edf5"/>
<rect x="184.17" y="973.87" width="12.83" height="10.33" fill="#dfe9f2"/>
<rect x="196.75" y="973.87" width="12.83" height="10.33" fill="#e6edf5"/>
<rect x="209.32" y="973.87" width="12.83" height="10.33" fill="#a4c2de"/>
<rect x="58.4" y="983.95" width="12.83" height="10.33" fill="#cb5965"/>
<rect x="70.98" y="983.95" width="12.83" height="10.33" fill="#f1d8db"/>
<rect x="83.55" y="983.95" width="12.83" height="10.33" fill="#f8f2f4"/>
<rect x="96.13" y="983.95" width="12.83" height="10.33" fill="#e9bec3"/>
<rect x="108.71" y="983.95" width="12.83" height="10.33" fill="#f6f8fa"/>
<rect x="121.28" y="983.95" width="12.83" height="10.33" fill="#e6edf5"/>
<rect x="133.86" y="983.95" width="12.83" height="10.33" fill="#bad0e6"/>
<rect x="146.44" y="983.95" width="12.83" height="10.33" fill="#c1d5e9"/>
<rect x="159.02" y="983.95" width="12.83" height="10.33" fill="#e6edf5"/>
<rect x="171.59" y="983.95" width="12.83" height="10.33" fill="#d7e4f0"/>
<rect x="184.17" y="983.95" width="12.83" height="10.33" fill="#f1f4f8"/>
<rect x="196.75" y="983.95" width="12.83" height="10.33" fill="#f1f4f8"/>
<rect x="209.32" y="983.95" width="12.83" height="10.33" fill="#a4c2de"/>
<rect x="58.4" y="994.04" width="12.83" height="10.33" fill="#bf3240"/>
<rect x="70.98" y="994.04" width="12.83" height="10.33" fill="#fbfbfc"/>
<rect x="83.55" y="994.04" width="12.83" height="10.33" fill="#faf6f7"/>
<rect x="96.13" y="994.04" width="12.83" height="10.33" fill="#f1d8db"/>
<rect x="108.71" y="994.04" width="12.83" height="10.33" fill="#d7e4f0"/>
<rect x="121.28" y="994.04" width="12.83" height="10.33" fill="#ebf1f7"/>
<rect x="133.86" y="994.04" width="12.83" height="10.33" fill="#faf9fa"/>
<rect x="146.44" y="994.04" width="12.83" height="10.33" fill="#e6edf5"/>
<rect x="159.02" y="994.04" width="12.83" height="10.33" fill="#dfe9f2"/>
<rect x="171.59" y="994.04" width="12.83" height="10.33" fill="#fbfbfc"/>
<rect x="184.17" y="994.04" width="12.83" height="10.33" fill="#d0dfee"/>
<rect x="196.75" y="994.04" width="12.83" height="10.33" fill="#9cbddc"/>
<rect x="209.32" y="994.04" width="12.83" height="10.33" fill="#e6edf5"/>
<rect x="58.4" y="1004.12" width="12.83" height="10.33" fill="#c23c49"/>
<rect x="70.98" y="1004.12" width="12.83" height="10.33" fill="#f2dee1"/>
<rect x="83.55" y="1004.12" width="12.83" height="10.33" fill="#f4e4e6"/>
<rect x="96.13" y="1004.12" width="12.83" height="10.33" fill="#d0dfee"/>
<rect x="108.71" y="1004.12" width="12.83" height="10.33" fill="#ebf1f7"/>
<rect x="121.28" y="1004.12" width="12.83" height="10.33" fill="#e6edf5"/>
<rect x="133.86" y="1004.12" width="12.83" height="10.33" fill="#e6edf5"/>
<rect x="146.44" y="1004.12" width="12.83" height="10.33" fill="#e6edf5"/>
<rect x="159.02" y="1004.12" width="12.83" height="10.33" fill="#bad0e6"/>
<rect x="171.59" y="1004.12" width="12.83" height="10.33" fill="#c1d5e9"/>
<rect x="184.17" y="1004.12" width="12.83" height="10.33" fill="#e6edf5"/>
<rect x="196.75" y="1004.12" width="12.83" height="10.33" fill="#e6edf5"/>
<rect x="209.32" y="1004.12" width="12.83" height="10.33" fill="#dfe9f2"/>
<rect x="58.4" y="1014.21" width="12.83" height="10.33" fill="#bf3240"/>
<rect x="70.98" y="1014.21" width="12.83" height="10.33" fill="#faf6f7"/>
<rect x="83.55" y="1014.21" width="12.83" height="10.33" fill="#f4e4e6"/>
<rect x="96.13" y="1014.21" width="12.83" height="10.33" fill="#d7e4f0"/>
<rect x="108.71" y="1014.21" width="12.83" height="10.33" fill="#d7e4f0"/>
<rect x="121.28" y="1014.21" width="12.83" height="10.33" fill="#dfe9f2"/>
<rect x="133.86" y="1014.21" width="12.83" height="10.33" fill="#fbfbfc"/>
<rect x="146.44" y="1014.21" width="12.83" height="10.33" fill="#e6edf5"/>
<rect x="159.02" y="1014.21" width="12.83" height="10.33" fill="#d0dfee"/>
<rect x="171.59" y="1014.21" width="12.83" height="10.33" fill="#c9daeb"/>
<rect x="184.17" y="1014.21" width="12.83" height="10.33" fill="#faf6f7"/>
<rect x="196.75" y="1014.21" width="12.83" height="10.33" fill="#dfe9f2"/>
<rect x="209.32" y="1014.21" width="12.83" height="10.33" fill="#ebf1f7"/>
<rect x="58.4" y="1024.29" width="12.83" height="10.33" fill="#cb5965"/>
<rect x="70.98" y="1024.29" width="12.83" height="10.33" fill="#e7b6bc"/>
<rect x="83.55" y="1024.29" width="12.83" height="10.33" fill="#f4e4e6"/>
<rect x="96.13" y="1024.29" width="12.83" height="10.33" fill="#fbfbfc"/>
<rect x="108.71" y="1024.29" width="12.83" height="10.33" fill="#d7e4f0"/>
<rect x="121.28" y="1024.29" width="12.83" height="10.33" fill="#d7e4f0"/>
<rect x="133.86" y="1024.29" width="12.83" height="10.33" fill="#c1d5e9"/>
<rect x="146.44" y="1024.29" width="12.83" height="10.33" fill="#dfe9f2"/>
<rect x="159.02" y="1024.29" width="12.83" height="10.33" fill="#dfe9f2"/>
<rect x="171.59" y="1024.29" width="12.83" height="10.33" fill="#e6edf5"/>
<rect x="184.17" y="1024.29" width="12.83" height="10.33" fill="#dfe9f2"/>
<rect x="196.75" y="1024.29" width="12.83" height="10.33" fill="#dfe9f2"/>
<rect x="209.32" y="1024.29" width="12.83" height="10.33" fill="#bad0e6"/>
<rect x="58.4" y="1034.38" width="12.83" height="10.33" fill="#bf3240"/>
<rect x="70.98" y="1034.38" width="12.83" height="10.33" fill="#f6e9eb"/>
<rect x="83.55" y="1034.38" width="12.83" height="10.33" fill="#f8f2f4"/>
<rect x="96.13" y="1034.38" width="12.83" height="10.33" fill="#faf9fa"/>
<rect x="108.71" y="1034.38" width="12.83" height="10.33" fill="#e6edf5"/>
<rect x="121.28" y="1034.38" width="12.83" height="10.33" fill="#dfe9f2"/>
<rect x="133.86" y="1034.38" width="12.83" height="10.33" fill="#dfe9f2"/>
<rect x="146.44" y="1034.38" width="12.83" height="10.33" fill="#dfe9f2"/>
<rect x="159.02" y="1034.38" width="12.83" height="10.33" fill="#dfe9f2"/>
<rect x="171.59" y="1034.38" width="12.83" height="10.33" fill="#e6edf5"/>
<rect x="184.17" y="1034.38" width="12.83" height="10.33" fill="#dfe9f2"/>
<rect x="196.75" y="1034.38" width="12.83" height="10.33" fill="#dfe9f2"/>
<rect x="209.32" y="1034.38" width="12.83" height="10.33" fill="#dfe9f2"/>
<rect x="58.4" y="1044.46" width="12.83" height="10.33" fill="#bf3240"/>
<rect x="70.98" y="1044.46" width="12.83" height="10.33" fill="#efd2d6"/>
<rect x="83.55" y="1044.46" width="12.83" height="10.33" fill="#fbfbfc"/>
<rect x="96.13" y="1044.46" width="12.83" height="10.33" fill="#faf6f7"/>
<rect x="108.71" y="1044.46" width="12.83" height="10.33" fill="#e6edf5"/>
<rect x="121.28" y="1044.46" width="12.83" height="10.33" fill="#dfe9f2"/>
<rect x="133.86" y="1044.46" width="12.83" height="10.33" fill="#dfe9f2"/>
<rect x="146.44" y="1044.46" width="12.83" height="10.33" fill="#dfe9f2"/>
<rect x="159.02" y="1044.46" width="12.83" height="10.33" fill="#dfe9f2"/>
<rect x="171.59" y="1044.46" width="12.83" height="10.33" fill="#dfe9f2"/>
<rect x="184.17" y="1044.46" width="12.83" height="10.33" fill="#dfe9f2"/>
<rect x="196.75" y="1044.46" width="12.83" height="10.33" fill="#d7e4f0"/>
<rect x="209.32" y="1044.46" width="12.83" height="10.33" fill="#d7e4f0"/>
<rect x="58.4" y="1054.55" width="12.83" height="10.33" fill="#edccd0"/>
<rect x="70.98" y="1054.55" width="12.83" height="10.33" fill="#dfe9f2"/>
<rect x="83.55" y="1054.55" width="12.83" height="10.33" fill="#db8f97"/>
<rect x="96.13" y="1054.55" width="12.83" height="10.33" fill="#f4e4e6"/>
<rect x="108.71" y="1054.55" width="12.83" height="10.33" fill="#7ea9d2"/>
<rect x="121.28" y="1054.55" width="12.83" height="10.33" fill="#e6edf5"/>
<rect x="133.86" y="1054.55" width="12.83" height="10.33" fill="#ebc5c9"/>
<rect x="146.44" y="1054.55" width="12.83" height="10.33" fill="#c1d5e9"/>
<rect x="159.02" y="1054.55" width="12.83" height="10.33" fill="#fbfbfc"/>
<rect x="171.59" y="1054.55" width="12.83" height="10.33" fill="#a4c2de"/>
<rect x="184.17" y="1054.55" width="12.83" height="10.33" fill="#f4e4e6"/>
<rect x="196.75" y="1054.55" width="12.83" height="10.33" fill="#e6edf5"/>
<rect x="209.32" y="1054.55" width="12.83" height="10.33" fill="#f4e4e6"/>
<rect x="58.4" y="1064.63" width="12.83" height="10.33" fill="#e09fa6"/>
<rect x="70.98" y="1064.63" width="12.83" height="10.33" fill="#fbfbfc"/>
<rect x="83.55" y="1064.63" width="12.83" height="10.33" fill="#dfe9f2"/>
<rect x="96.13" y="1064.63" width="12.83" height="10.33" fill="#e09fa6"/>
<rect x="108.71" y="1064.63" width="12.83" height="10.33" fill="#6e9fcc"/>
<rect x="121.28" y="1064.63" width="12.83" height="10.33" fill="#f1f4f8"/>
<rect x="133.86" y="1064.63" width="12.83" height="10.33" fill="#d7e4f0"/>
<rect x="146.44" y="1064.63" width="12.83" height="10.33" fill="#f6f8fa"/>
<rect x="159.02" y="1064.63" width="12.83" height="10.33" fill="#d7e4f0"/>
<rect x="171.59" y="1064.63" width="12.83" height="10.33" fill="#d7e4f0"/>
<rect x="184.17" y="1064.63" width="12.83" height="10.33" fill="#efd2d6"/>
<rect x="196.75" y="1064.63" width="12.83" height="10.33" fill="#f6e9eb"/>
<rect x="209.32" y="1064.63" width="12.83" height="10.33" fill="#f8f2f4"/>
<rect x="58.4" y="1074.72" width="12.83" height="10.33" fill="#d06c76"/>
<rect x="70.98" y="1074.72" width="12.83" height="10.33" fill="#fbfbfc"/>
<rect x="83.55" y="1074.72" width="12.83" height="10.33" fill="#c1d5e9"/>
<rect x="96.13" y="1074.72" width="12.83" height="10.33" fill="#fbfbfc"/>
<rect x="108.71" y="1074.72" width="12.83" height="10.33" fill="#c9daeb"/>
<rect x="121.28" y="1074.72" width="12.83" height="10.33" fill="#c9daeb"/>
<rect x="133.86" y="1074.72" width="12.83" height="10.33" fill="#f1f4f8"/>
<rect x="146.44" y="1074.72" width="12.83" height="10.33" fill="#c1d5e9"/>
<rect x="159.02" y="1074.72" width="12.83" height="10.33" fill="#f8f2f4"/>
<rect x="171.59" y="1074.72" width="12.83" height="10.33" fill="#f1f4f8"/>
<rect x="184.17" y="1074.72" width="12.83" height="10.33" fill="#f1f4f8"/>
<rect x="196.75" y="1074.72" width="12.83" height="10.33" fill="#f6f8fa"/>
<rect x="209.32" y="1074.72" width="12.83" height="10.33" fill="#e09fa6"/>
<path d="M58.4,625.94H53.4V636.03H58.4 M58.4,676.37H55V686.45H58.4 M58.4,666.28H54.2V681.41H55 M58.4,656.2H52.6V673.85H54.2 M58.4,646.11H49.1V665.02H52.6 M53.4,630.98H46.3V655.57H49.1 M58.4,696.54H52.6V706.62H58.4 M58.4,716.71H49.5V726.79H58.4 M52.6,701.58H47.9V721.75H49.5 M58.4,736.88H52.6V746.96H58.4 M58.4,767.13H52.2V777.21H58.4 M58.4,757.04H51.4V772.17H52.2 M58.4,797.38H50.2V807.47H58.4 M58.4,787.3H49.5V802.43H50.2 M51.4,764.61H46.3V794.86H49.5 M52.6,741.92H45.1V779.74H46.3 M47.9,711.66H41.6V760.83H45.1 M46.3,643.28H37.2V736.24H41.6 M58.4,837.72H48.7V847.81H58.4 M58.4,827.64H40.4V842.77H48.7 M58.4,817.55H30.5V835.2H40.4 M37.2,689.76H22.1V826.38H30.5 M58.4,867.98H51.4V878.06H58.4 M58.4,857.89H45.4V873.02H51.4 M58.4,898.23H46.4V908.32H58.4 M58.4,918.4H45V928.49H58.4 M46.4,903.27H39.1V923.44H45 M58.4,888.15H33.5V913.36H39.1 M45.4,865.46H32.7V900.75H33.5 M58.4,938.57H48.5V948.66H58.4 M58.4,958.74H42.6V968.82H58.4 M48.5,943.61H42.2V963.78H42.6 M58.4,978.91H44.6V988.99H58.4 M58.4,1009.16H51.7V1019.25H58.4 M58.4,1039.42H54.2V1049.5H58.4 M58.4,1029.33H51.4V1044.46H54.2 M51.7,1014.21H46.7V1036.9H51.4 M58.4,999.08H43.4V1025.55H46.7 M44.6,983.95H39.1V1012.32H43.4 M42.2,953.7H35.1V998.13H39.1 M58.4,1069.67H37.9V1079.76H58.4 M58.4,1059.59H32.1V1074.72H37.9 M35.1,975.92H30.4V1067.15H32.1 M32.7,883.1H17.5V1021.53H30.4 M22.1,758.07H11.5V952.32H17.5" stroke="#2a2a2a" stroke-width="0.9" fill="none" stroke-linecap="square"/>
<text x="226.1" y="630.14" font-family='"Liberation Serif", serif' font-size="9.55" fill="#1e2078" xml:space="preserve">M1 family metallopeptidase [<tspan font-style="italic">Lactobacillus jinshani</tspan>]</text>
<text x="226.1" y="640.23" font-family='"Liberation Serif", serif' font-size="9.55" fill="#1e2078" xml:space="preserve">NAD(P)−dependent alcohol dehydrogenase [<tspan font-style="italic">Lactobacillus jinshani</tspan>]</text>
<text x="226.1" y="650.31" font-family='"Liberation Serif", serif' font-size="9.55" fill="#1e2078" xml:space="preserve">glutamine—<tspan dx="1.22">fructose−6−phosphate transaminase_1 [</tspan><tspan font-style="italic">Lactobacillus jinshani</tspan>]</text>
<text x="226.1" y="660.4" font-family='"Liberation Serif", serif' font-size="9.55" fill="#1e2078" xml:space="preserve">D−alanine—<tspan dx="1.22">D−alanine ligase [</tspan><tspan font-style="italic">Lactobacillus jinshani</tspan>]</text>
<text x="226.1" y="670.48" font-family='"Liberation Serif", serif' font-size="9.55" fill="#1e2078" xml:space="preserve">glucose−6−phosphate dehydrogenase [<tspan font-style="italic">Lactobacillus jinshani</tspan>]</text>
<text x="226.1" y="680.57" font-family='"Liberation Serif", serif' font-size="9.55" fill="#1e2078" xml:space="preserve">NADP−dependent phosphogluconate dehydrogenase_1 [<tspan font-style="italic">Lactobacillus jinshani</tspan>]</text>
<text x="226.1" y="690.65" font-family='"Liberation Serif", serif' font-size="9.55" fill="#1e2078" xml:space="preserve">UDP−N−acetylmuramoyl−L−alanine—<tspan dx="1.22">D−glutamate ligase [</tspan><tspan font-style="italic">Lactobacillus jinshani</tspan>]</text>
<text x="226.1" y="700.74" font-family='"Liberation Serif", serif' font-size="9.55" fill="#1e2078" xml:space="preserve">aspartate carbamoyltransferase catalytic subunit [<tspan font-style="italic">Weissella</tspan> sp.]</text>
<text x="226.1" y="710.82" font-family='"Liberation Serif", serif' font-size="9.55" fill="#1e2078" xml:space="preserve">ornithine carbamoyltransferase [<tspan font-style="italic">Lactobacillus jinshani</tspan>]</text>
<text x="226.1" y="720.91" font-family='"Liberation Serif", serif' font-size="9.55" fill="#1e2078" xml:space="preserve">adenylosuccinate lyase [<tspan font-style="italic">Lactobacillus micheneri</tspan>]</text>
<text x="226.1" y="730.99" font-family='"Liberation Serif", serif' font-size="9.55" fill="#1e2078" xml:space="preserve">asparagine synthase [<tspan font-style="italic">Lactobacillus jinshani</tspan>]</text>
<text x="226.1" y="741.08" font-family='"Liberation Serif", serif' font-size="9.55" fill="#1e2078" xml:space="preserve">NAD(P)/FAD−dependent oxidoreductase [<tspan font-style="italic">Lactobacillus jinshani</tspan>]</text>
<text x="226.1" y="751.16" font-family='"Liberation Serif", serif' font-size="9.55" fill="#1e2078" xml:space="preserve">NAD−dependent succinate−semialdehyde dehydrogenase [<tspan font-style="italic">Lactobacillus jinshani</tspan>]</text>
<text x="226.1" y="761.24" font-family='"Liberation Serif", serif' font-size="9.55" fill="#1e2078" xml:space="preserve">methionine—<tspan dx="1.22">tRNA ligase [</tspan><tspan font-style="italic">Lactobacillus jinshani</tspan>]</text>
<text x="226.1" y="771.33" font-family='"Liberation Serif", serif' font-size="9.55" fill="#1e2078" xml:space="preserve">2,3−diphosphoglycerate−dependent phosphoglycerate mutase_1 [<tspan font-style="italic">Lactobacillus jinshani</tspan>]</text>
<text x="226.1" y="781.41" font-family='"Liberation Serif", serif' font-size="9.55" fill="#1e2078" xml:space="preserve">UDP−N−acetylmuramate—<tspan dx="1.22">L−alanine ligase [</tspan><tspan font-style="italic">Lactobacillus jinshani</tspan>]</text>
<text x="226.1" y="791.5" font-family='"Liberation Serif", serif' font-size="9.55" fill="#1e2078" xml:space="preserve">class I mannose−6−phosphate isomerase [<tspan font-style="italic">Lactobacillus jinshani</tspan>]</text>
<text x="226.1" y="801.58" font-family='"Liberation Serif", serif' font-size="9.55" fill="#1e2078" xml:space="preserve">2,3−diphosphoglycerate−dependent phosphoglycerate mutase_2 [<tspan font-style="italic">Lactobacillus jinshani</tspan>]</text>
<text x="226.1" y="811.67" font-family='"Liberation Serif", serif' font-size="9.55" fill="#1e2078" xml:space="preserve">glutamine—<tspan dx="1.22">fructose−6−phosphate transaminase_2 [</tspan><tspan font-style="italic">Lactobacillus jinshani</tspan>]</text>
<text x="226.1" y="821.75" font-family='"Liberation Serif", serif' font-size="9.55" fill="#1e2078" xml:space="preserve">methionine adenosyltransferase [<tspan font-style="italic">Lactobacillus jinshani</tspan>]</text>
<text x="226.1" y="831.84" font-family='"Liberation Serif", serif' font-size="9.55" fill="#1e2078" xml:space="preserve">adenylosuccinate synthase [<tspan font-style="italic">Lactobacillus jinshani</tspan>]</text>
<text x="226.1" y="841.92" font-family='"Liberation Serif", serif' font-size="9.55" fill="#1e2078" xml:space="preserve">proline iminopeptidase−family hydrolase [<tspan font-style="italic">Lactobacillus jinshani</tspan>]</text>
<text x="226.1" y="852.01" font-family='"Liberation Serif", serif' font-size="9.55" fill="#1e2078" xml:space="preserve">undecaprenyldiphospho−muramoylpentapeptide beta−N−acetylglucosaminyltransferase [<tspan font-style="italic">Lactobacillus jinshani</tspan>]</text>
<text x="226.1" y="862.09" font-family='"Liberation Serif", serif' font-size="9.55" fill="#a81a2b" xml:space="preserve">uncharacterized protein C5L36_0B10480 [<tspan font-style="italic">Pichia kudriavzevii</tspan>]</text>
<text x="226.1" y="872.18" font-family='"Liberation Serif", serif' font-size="9.55" fill="#a81a2b" xml:space="preserve">Ribonucleotide−diphosphate reductase [<tspan font-style="italic">Kazachstania saulgeensis</tspan>]</text>
<text x="226.1" y="882.26" font-family='"Liberation Serif", serif' font-size="9.55" fill="#a81a2b" xml:space="preserve">Tetrameric phosphoglycerate mutase [<tspan font-style="italic">Kazachstania saulgeensis</tspan>]</text>
<text x="226.1" y="892.35" font-family='"Liberation Serif", serif' font-size="9.55" fill="#a81a2b" xml:space="preserve">uncharacterized protein C5L36_0C08610 [<tspan font-style="italic">Pichia kudriavzevii</tspan>]</text>
<text x="226.1" y="902.43" font-family='"Liberation Serif", serif' font-size="9.55" fill="#a81a2b" xml:space="preserve">branched−chain amino acid aminotransferase [<tspan font-style="italic">Pichia kudriavzevii</tspan>]</text>
<text x="226.1" y="912.52" font-family='"Liberation Serif", serif' font-size="9.55" fill="#a81a2b" xml:space="preserve">ketol−acid reductoisomerase_1 [<tspan font-style="italic">Talaromyces islandicus</tspan>]</text>
<text x="226.1" y="922.6" font-family='"Liberation Serif", serif' font-size="9.55" fill="#a81a2b" xml:space="preserve">uncharacterized protein C5L36_0C07130 [<tspan font-style="italic">Pichia kudriavzevii</tspan>]</text>
<text x="226.1" y="932.69" font-family='"Liberation Serif", serif' font-size="9.55" fill="#a81a2b" xml:space="preserve">YKL152Cp−like protein, partial [<tspan font-style="italic">Saccharomyces cerevisiae</tspan>]</text>
<text x="226.1" y="942.77" font-family='"Liberation Serif", serif' font-size="9.55" fill="#a81a2b" xml:space="preserve">large subunit of biosynthetic type acetolactate synthase [<tspan font-style="italic">Syncephalastrum racemosum</tspan>]</text>
<text x="226.1" y="952.86" font-family='"Liberation Serif", serif' font-size="9.55" fill="#1e2078" xml:space="preserve">NADP−dependent phosphogluconate dehydrogenase_2 [<tspan font-style="italic">Leuconostoc citreum</tspan>]</text>
<text x="226.1" y="962.94" font-family='"Liberation Serif", serif' font-size="9.55" fill="#a81a2b" xml:space="preserve">Putative UDP−glucose 6−dehydrogenase [<tspan font-style="italic">Lichtheimia ramosa</tspan>]</text>
<text x="226.1" y="973.02" font-family='"Liberation Serif", serif' font-size="9.55" fill="#a81a2b" xml:space="preserve">UTP—<tspan dx="1.22">glucose−1−phosphate uridylyltransferase [</tspan><tspan font-style="italic">Pichia kudriavzevii</tspan>]</text>
<text x="226.1" y="983.11" font-family='"Liberation Serif", serif' font-size="9.55" fill="#a81a2b" xml:space="preserve">Peroxisomal malate dehydrogenase [<tspan font-style="italic">Kazachstania saulgeensis</tspan>]</text>
<text x="226.1" y="993.19" font-family='"Liberation Serif", serif' font-size="9.55" fill="#a81a2b" xml:space="preserve">gdp−mannose−dehydratase [<tspan font-style="italic">Lichtheimia corymbifera</tspan>]</text>
<text x="226.1" y="1003.28" font-family='"Liberation Serif", serif' font-size="9.55" fill="#a81a2b" xml:space="preserve">putative UTP−glucose−1−phosphate uridylyltransferase Ugp1 [<tspan font-style="italic">Byssochlamys spectabilis</tspan>]</text>
<text x="226.1" y="1013.36" font-family='"Liberation Serif", serif' font-size="9.55" fill="#a81a2b" xml:space="preserve">hypothetical protein LRAMOSA10619 [<tspan font-style="italic">Lichtheimia ramosa</tspan>]</text>
<text x="226.1" y="1023.45" font-family='"Liberation Serif", serif' font-size="9.55" fill="#a81a2b" xml:space="preserve">ketol−acid reductoisomerase_2 [<tspan font-style="italic">Lichtheimia corymbifera</tspan> ]</text>
<text x="226.1" y="1033.53" font-family='"Liberation Serif", serif' font-size="9.55" fill="#a81a2b" xml:space="preserve">Putative Malate dehydrogenase [<tspan font-style="italic">Lichtheimia ramosa</tspan>]</text>
<text x="226.1" y="1043.62" font-family='"Liberation Serif", serif' font-size="9.55" fill="#1e2078" xml:space="preserve">D−alanyl−D−alanine carboxypeptidase [<tspan font-style="italic">Lactobacillus plantarum</tspan>]</text>
<text x="226.1" y="1053.7" font-family='"Liberation Serif", serif' font-size="9.55" fill="#a81a2b" xml:space="preserve">Putative S−adenosylmethionine synthase [<tspan font-style="italic">Lichtheimia ramosa</tspan>]</text>
<text x="226.1" y="1063.79" font-family='"Liberation Serif", serif' font-size="9.55" fill="#a81a2b" xml:space="preserve">catalase B [<tspan font-style="italic">Aspergillus udagawae</tspan>]</text>
<text x="226.1" y="1073.87" font-family='"Liberation Serif", serif' font-size="9.55" fill="#1e2078" xml:space="preserve">decarboxylating 6−phosphogluconate dehydrogenase [<tspan font-style="italic">Lactobacillus jinshani</tspan>]</text>
<text x="226.1" y="1083.96" font-family='"Liberation Serif", serif' font-size="9.55" fill="#a81a2b" xml:space="preserve">aspartate carbamoyltransferase [<tspan font-style="italic">Byssochlamys spectabilis</tspan>]</text>
<text transform="translate(61.46,1087.8) rotate(90)" font-family='"Liberation Serif", serif' font-size="9.5" fill="#111">JZ_0</text>
<text transform="translate(74.04,1087.8) rotate(90)" font-family='"Liberation Serif", serif' font-size="9.5" fill="#111">JZ_4</text>
<text transform="translate(86.61,1087.8) rotate(90)" font-family='"Liberation Serif", serif' font-size="9.5" fill="#111">JZ_8</text>
<text transform="translate(99.19,1087.8) rotate(90)" font-family='"Liberation Serif", serif' font-size="9.5" fill="#111">JZ_12</text>
<text transform="translate(111.77,1087.8) rotate(90)" font-family='"Liberation Serif", serif' font-size="9.5" fill="#111">JZ_18</text>
<text transform="translate(124.34,1087.8) rotate(90)" font-family='"Liberation Serif", serif' font-size="9.5" fill="#111">JZ_24</text>
<text transform="translate(136.92,1087.8) rotate(90)" font-family='"Liberation Serif", serif' font-size="9.5" fill="#111">JZ_32</text>
<text transform="translate(149.5,1087.8) rotate(90)" font-family='"Liberation Serif", serif' font-size="9.5" fill="#111">JZ_44</text>
<text transform="translate(162.07,1087.8) rotate(90)" font-family='"Liberation Serif", serif' font-size="9.5" fill="#111">JZ_56</text>
<text transform="translate(174.65,1087.8) rotate(90)" font-family='"Liberation Serif", serif' font-size="9.5" fill="#111">JZ_68</text>
<text transform="translate(187.23,1087.8) rotate(90)" font-family='"Liberation Serif", serif' font-size="9.5" fill="#111">JZ_100</text>
<text transform="translate(199.8,1087.8) rotate(90)" font-family='"Liberation Serif", serif' font-size="9.5" fill="#111">JZ_130</text>
<text transform="translate(212.38,1087.8) rotate(90)" font-family='"Liberation Serif", serif' font-size="9.5" fill="#111">JZ_220</text>
<rect x="553.3" y="624.0" width="11.4" height="11.1" fill="#f40000"/>
<text x="569.2" y="633.3" font-family='"Liberation Serif", serif' font-size="10.5" fill="#222">Bacteria</text>
<rect x="553.3" y="640.4" width="11.4" height="11.1" fill="#0000f2"/>
<text x="569.2" y="649.6" font-family='"Liberation Serif", serif' font-size="10.5" fill="#222">Fungi</text>
<linearGradient id="gC" x1="0" y1="0" x2="0" y2="1"><stop offset="0" stop-color="#a8384a"/><stop offset="0.1667" stop-color="#c4667a"/><stop offset="0.3333" stop-color="#dfb0bc"/><stop offset="0.5" stop-color="#f0eff3"/><stop offset="0.6667" stop-color="#b6cae1"/><stop offset="0.8333" stop-color="#7199c8"/><stop offset="1" stop-color="#3a6da8"/></linearGradient>
<rect x="624.6" y="624.8" width="8.6" height="135.3" fill="url(#gC)"/>
<text x="636.2" y="631.1" font-family='"Liberation Serif", serif' font-size="10" fill="#222">3</text>
<text x="636.2" y="652.72" font-family='"Liberation Serif", serif' font-size="10" fill="#222">2</text>
<text x="636.2" y="674.33" font-family='"Liberation Serif", serif' font-size="10" fill="#222">1</text>
<text x="636.2" y="695.95" font-family='"Liberation Serif", serif' font-size="10" fill="#222">0</text>
<text x="636.2" y="717.57" font-family='"Liberation Serif", serif' font-size="10" fill="#222">−1</text>
<text x="636.2" y="739.18" font-family='"Liberation Serif", serif' font-size="10" fill="#222">−2</text>
<text x="636.2" y="760.8" font-family='"Liberation Serif", serif' font-size="10" fill="#222">−3</text>
</svg>
</body></html>
